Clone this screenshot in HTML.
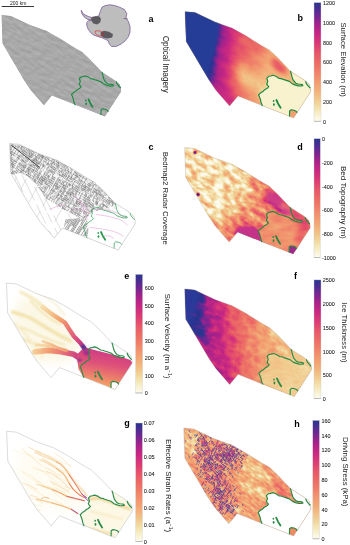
<!DOCTYPE html><html><head><meta charset="utf-8"><style>html,body{margin:0;padding:0;background:#fff;}svg{display:block;}text{font-family:"Liberation Sans",Arial,sans-serif;}</style></head><body>
<svg width="350" height="545" viewBox="0 0 350 545">
<defs>
<linearGradient id="cm" x1="0" y1="0" x2="0" y2="1"><stop offset="0.0" stop-color="#28358f"/><stop offset="0.062" stop-color="#4f2c92"/><stop offset="0.13" stop-color="#7f2590"/><stop offset="0.19" stop-color="#a8228a"/><stop offset="0.273" stop-color="#c92882"/><stop offset="0.357" stop-color="#dd3d74"/><stop offset="0.44" stop-color="#e85a68"/><stop offset="0.5" stop-color="#ec6a66"/><stop offset="0.568" stop-color="#ef7c68"/><stop offset="0.652" stop-color="#f2966e"/><stop offset="0.736" stop-color="#f3ae78"/><stop offset="0.82" stop-color="#f1ca8e"/><stop offset="0.888" stop-color="#f3e2ac"/><stop offset="0.947" stop-color="#f8f1d0"/><stop offset="1.0" stop-color="#fdfbf0"/></linearGradient>
<clipPath id="clp"><polygon points="0.0,0.0 10.0,1.0 30.0,10.6 44.0,15.6 47.0,16.6 60.6,24.2 74.3,32.8 79.0,35.6 84.4,38.6 92.3,45.9 105.0,59.3 106.4,60.4 119.3,68.6 124.3,72.9 125.7,77.9 125.5,80.6 108.6,106.6 53.0,84.6 44.6,94.6 30.7,78.6 24.0,68.6 1.2,30.0"/></clipPath>
<clipPath id="shelfclip"><polygon points="77.6,94.7 76.6,92.7 75.9,90.4 75.6,88.6 74.5,85.5 73.5,83.4 74.6,82.6 75.6,81.4 77.6,80.3 78.4,79.6 79.7,78.3 81.7,77.2 82.6,76.6 83.8,75.2 82.6,74.0 81.7,72.5 82.8,70.0 82.4,68.4 81.7,66.9 83.8,64.9 85.8,64.6 87.9,63.9 91.0,64.9 94.1,67.0 96.2,67.2 98.2,68.0 101.3,69.0 104.4,70.0 107.5,72.5 110.6,73.7 113.5,74.5 115.7,74.6 117.8,74.2 117.3,73.2 115.5,72.8 113.0,72.6 110.8,71.8 108.9,69.6 107.9,68.2 107.5,67.0 106.8,64.8 106.4,62.8 105.4,59.6 106.4,60.4 119.3,68.6 124.3,72.9 125.7,77.9 125.5,80.6 108.6,106.6"/></clipPath>
<filter id="bl2" x="-20%" y="-20%" width="140%" height="140%"><feGaussianBlur stdDeviation="2"/></filter>
<filter id="bl4" x="-30%" y="-30%" width="160%" height="160%"><feGaussianBlur stdDeviation="4"/></filter>
<filter id="bl7" x="-40%" y="-40%" width="180%" height="180%"><feGaussianBlur stdDeviation="7"/></filter>
<filter id="bl1"><feGaussianBlur stdDeviation="1"/></filter>
<filter id="bl05"><feGaussianBlur stdDeviation="0.6"/></filter>
</defs>
<filter id="hs" x="0" y="0" width="100%" height="100%"><feTurbulence type="fractalNoise" baseFrequency="0.18 0.32" numOctaves="3" seed="4" result="n"/><feColorMatrix in="n" type="matrix" values="0 0 0 0 0.5  0 0 0 0 0.5  0 0 0 0 0.5  1.6 0 0 0 -0.8"/></filter>
<filter id="hs2" x="0" y="0" width="100%" height="100%"><feTurbulence type="fractalNoise" baseFrequency="0.18 0.32" numOctaves="3" seed="4" result="n"/><feColorMatrix in="n" type="matrix" values="0 0 0 0 1  0 0 0 0 1  0 0 0 0 1  -1.6 0 0 0 0.8"/></filter>
<filter id="hill" x="0" y="0" width="100%" height="100%" color-interpolation-filters="sRGB"><feTurbulence type="fractalNoise" baseFrequency="0.12 0.26" numOctaves="4" seed="2" result="t"/><feDiffuseLighting in="t" surfaceScale="0.26" lighting-color="#dcdcdc" diffuseConstant="1.0"><feDistantLight azimuth="225" elevation="50"/></feDiffuseLighting></filter>
<g transform="translate(1.4,15.0) scale(0.953)">
<g clip-path="url(#clp)">
<polygon points="0.0,0.0 10.0,1.0 30.0,10.6 44.0,15.6 47.0,16.6 60.6,24.2 74.3,32.8 79.0,35.6 84.4,38.6 92.3,45.9 105.0,59.3 106.4,60.4 119.3,68.6 124.3,72.9 125.7,77.9 125.5,80.6 108.6,106.6 53.0,84.6 44.6,94.6 30.7,78.6 24.0,68.6 1.2,30.0" fill="#a9a9a9"/>
<g transform="rotate(35 62 52)"><rect x="-40" y="-40" width="210" height="190" filter="url(#hill)"/></g>
</g>
<path d="M77.6,94.7 L76.6,92.7 L75.9,90.4 L75.6,88.6 L74.5,85.5 L73.5,83.4 L74.6,82.6 L75.6,81.4 L77.6,80.3 L78.4,79.6 L79.7,78.3 L81.7,77.2 L82.6,76.6 L83.8,75.2 L82.6,74.0 L81.7,72.5 L82.8,70.0 L82.4,68.4 L81.7,66.9 L83.8,64.9 L85.8,64.6 L87.9,63.9 L91.0,64.9 L94.1,67.0 L96.2,67.2 L98.2,68.0 L101.3,69.0 L104.4,70.0 L107.5,72.5 L110.6,73.7 L113.5,74.5 L115.7,74.6 L117.8,74.2 L117.3,73.2 L115.5,72.8 L113.0,72.6 L110.8,71.8 L108.9,69.6 L107.9,68.2 L107.5,67.0 L106.8,64.8 L106.4,62.8 L105.4,59.6" fill="none" stroke="#178a3f" stroke-width="1.15" stroke-linejoin="round"/>
<path d="M120.5,69.8 L121.4,72.2 L123.4,74.8 L125.2,76.6" fill="none" stroke="#178a3f" stroke-width="1.15"/>
<path d="M104.5,105.0 L104.6,99.6 L106.1,98.4 L109.0,98.8 L111.0,99.8 L112.3,101.3" fill="none" stroke="#178a3f" stroke-width="1.15"/>
<ellipse cx="88.6" cy="89.6" rx="0.8" ry="1.0" fill="#178a3f"/>
<ellipse cx="88.9" cy="93.2" rx="0.9" ry="1.4" fill="#178a3f"/>
<path d="M91.4,88.6 L93.2,92.5 L95.6,96.4" fill="none" stroke="#178a3f" stroke-width="1.8" stroke-linecap="round"/>
</g>
<polygon points="81.2,10.4 82.8,13.4 85.2,15.0 88.4,16.5 91.6,17.4 98.8,16.0 100.4,11.2 102.0,7.2 105.2,5.6 110.0,4.8 114.8,5.6 119.6,7.2 124.4,9.6 126.8,13.6 126.0,17.6 128.4,21.6 130.0,26.4 130.0,32.0 128.4,36.8 125.2,40.8 121.2,44.0 116.4,46.4 111.6,46.4 109.2,44.0 108.4,40.8 103.6,38.4 98.8,36.8 94.0,35.2 90.8,32.8 88.4,29.6 86.8,25.6 86.8,22.4 88.4,20.8 91.6,20.0 87.6,19.4 84.4,17.2 82.0,13.8" fill="#bdbdbd" stroke="#7a5c98" stroke-width="0.8" stroke-linejoin="round"/>
<polygon points="91.2,17.4 95,16.4 99,16.2 101,18.8 100.2,22.6 97.2,24.4 93.4,23.4 91.2,20.4" fill="#5c5a5e"/>
<polygon points="100.5,32.4 104,30.8 109,31.8 113,34.2 112.2,37.6 107.6,38.6 103,37.4 100.8,35.6" fill="#5c5a5e"/>
<path d="M95.2,31.0 Q99,29.8 102.8,32.2 Q104.2,34.5 102.6,35.8 Q99,36.8 96.4,34.6 Q94.4,32.6 95.2,31.0Z" fill="none" stroke="#e0202a" stroke-width="0.6"/>
<line x1="123.5" y1="18.5" x2="127.5" y2="18.8" stroke="#6a5a7a" stroke-width="0.8"/>
<defs><filter id="fb" color-interpolation-filters="sRGB" x="0" y="0" width="1" height="1"><feTurbulence type="fractalNoise" baseFrequency="0.08 0.16" numOctaves="3" seed="3" result="noise"/><feColorMatrix in="noise" type="matrix" values="1 0 0 0 0  1 0 0 0 0  1 0 0 0 0  0 0 0 0 1" result="ng"/><feComposite in="SourceGraphic" in2="ng" operator="arithmetic" k1="0" k2="1" k3="0.14" k4="-0.07" result="sum"/><feComponentTransfer in="sum"><feFuncR type="table" tableValues="0.992 0.980 0.969 0.961 0.953 0.949 0.945 0.949 0.953 0.953 0.949 0.949 0.945 0.941 0.937 0.929 0.925 0.918 0.910 0.894 0.875 0.855 0.824 0.796 0.753 0.702 0.651 0.569 0.482 0.396 0.310 0.235 0.157"/><feFuncG type="table" tableValues="0.984 0.961 0.937 0.906 0.867 0.824 0.784 0.741 0.702 0.663 0.627 0.592 0.557 0.518 0.482 0.447 0.416 0.384 0.349 0.306 0.263 0.227 0.196 0.165 0.149 0.141 0.133 0.141 0.149 0.161 0.173 0.188 0.208"/><feFuncB type="table" tableValues="0.941 0.867 0.792 0.718 0.651 0.596 0.549 0.518 0.486 0.463 0.447 0.435 0.424 0.416 0.408 0.404 0.400 0.404 0.408 0.427 0.443 0.463 0.482 0.506 0.518 0.529 0.541 0.553 0.565 0.569 0.573 0.569 0.561"/><feFuncA type="table" tableValues="1 1"/></feComponentTransfer></filter><linearGradient id="gbv" gradientUnits="userSpaceOnUse" x1="28" y1="40" x2="93" y2="51"><stop offset="0" stop-color="rgb(255,255,255)"/><stop offset="0.06" stop-color="rgb(230,230,230)"/><stop offset="0.12" stop-color="rgb(204,204,204)"/><stop offset="0.22" stop-color="rgb(186,186,186)"/><stop offset="0.35" stop-color="rgb(158,158,158)"/><stop offset="0.5" stop-color="rgb(128,128,128)"/><stop offset="0.68" stop-color="rgb(94,94,94)"/><stop offset="0.85" stop-color="rgb(71,71,71)"/><stop offset="1" stop-color="rgb(59,59,59)"/></linearGradient></defs>
<g transform="translate(185.0,11.4) scale(1.0)">
<g clip-path="url(#clp)">
<g transform="rotate(30 62 52)"><g filter="url(#fb)"><g transform="rotate(-30 62 52)">
<rect x="-40" y="-40" width="210" height="190" fill="url(#gbv)"/>
<g filter="url(#bl4)"><ellipse cx="66" cy="70" rx="16" ry="8" fill="rgb(46,46,46)" transform="rotate(30 66 70)"/><ellipse cx="86" cy="80" rx="14" ry="8" fill="rgb(33,33,33)"/><ellipse cx="60" cy="60" rx="12" ry="6" fill="rgb(56,56,56)" transform="rotate(30 60 60)"/><ellipse cx="40" cy="88" rx="10" ry="7" fill="rgb(184,184,184)"/><ellipse cx="46" cy="96" rx="5" ry="4" fill="rgb(189,189,189)"/><ellipse cx="32" cy="78" rx="6" ry="6" fill="rgb(194,194,194)"/><ellipse cx="70" cy="34" rx="12" ry="5" fill="rgb(143,143,143)" transform="rotate(30 70 34)"/></g>
<g filter="url(#bl2)"><ellipse cx="94" cy="55" rx="10" ry="4" fill="rgb(153,153,153)" transform="rotate(42 94 55)"/></g>
</g></g></g>
<g filter="url(#bl1)">
<polygon points="-5,-5 36,-2 35,8 34,14 33,23 30,37 26,49 23,59 24,71 22,80 -5,80" fill="#273d98"/>
</g>
<g filter="url(#bl05)" clip-path="url(#shelfclip)"><rect x="60" y="55" width="72" height="60" fill="#f8f2cf"/></g>
<polygon points="104.5,105.2 104.6,99.6 106.1,98.4 109,98.8 111,99.8 112.4,101.3 108.6,106.6" fill="#f2a070"/>
</g>
<polygon points="0.0,0.0 10.0,1.0 30.0,10.6 44.0,15.6 47.0,16.6 60.6,24.2 74.3,32.8 79.0,35.6 84.4,38.6 92.3,45.9 105.0,59.3 106.4,60.4 119.3,68.6 124.3,72.9 125.7,77.9 125.5,80.6 108.6,106.6 53.0,84.6 44.6,94.6 30.7,78.6 24.0,68.6 1.2,30.0" fill="none" stroke="#a08a7a" stroke-width="0.3"/>
<path d="M77.6,94.7 L76.6,92.7 L75.9,90.4 L75.6,88.6 L74.5,85.5 L73.5,83.4 L74.6,82.6 L75.6,81.4 L77.6,80.3 L78.4,79.6 L79.7,78.3 L81.7,77.2 L82.6,76.6 L83.8,75.2 L82.6,74.0 L81.7,72.5 L82.8,70.0 L82.4,68.4 L81.7,66.9 L83.8,64.9 L85.8,64.6 L87.9,63.9 L91.0,64.9 L94.1,67.0 L96.2,67.2 L98.2,68.0 L101.3,69.0 L104.4,70.0 L107.5,72.5 L110.6,73.7 L113.5,74.5 L115.7,74.6 L117.8,74.2 L117.3,73.2 L115.5,72.8 L113.0,72.6 L110.8,71.8 L108.9,69.6 L107.9,68.2 L107.5,67.0 L106.8,64.8 L106.4,62.8 L105.4,59.6" fill="none" stroke="#178a3f" stroke-width="1.15" stroke-linejoin="round"/>
<path d="M120.5,69.8 L121.4,72.2 L123.4,74.8 L125.2,76.6" fill="none" stroke="#178a3f" stroke-width="1.15"/>
<path d="M104.5,105.0 L104.6,99.6 L106.1,98.4 L109.0,98.8 L111.0,99.8 L112.3,101.3" fill="none" stroke="#178a3f" stroke-width="1.15"/>
<ellipse cx="88.6" cy="89.6" rx="0.8" ry="1.0" fill="#178a3f"/>
<ellipse cx="88.9" cy="93.2" rx="0.9" ry="1.4" fill="#178a3f"/>
<path d="M91.4,88.6 L93.2,92.5 L95.6,96.4" fill="none" stroke="#178a3f" stroke-width="1.8" stroke-linecap="round"/>
</g>
<clipPath id="denseclip"><polygon points="0.0,0.0 10.0,1.0 30.0,10.6 44.0,15.6 47.0,16.6 60.6,24.2 74.3,32.8 79.0,35.6 84.4,38.6 92.3,45.9 103.0,52.0 107.0,62.0 96.0,65.0 84.0,68.0 72.5,77.5 64.8,71.7 53.2,66.0 45.5,60.2 37.8,56.3 32.0,48.6 26.3,40.9 18.5,33.2 10.8,29.3 3.1,31.2 1.2,30.0"/></clipPath>
<g transform="translate(9.6,143.4) scale(1.0)">
<polygon points="0.0,0.0 10.0,1.0 30.0,10.6 44.0,15.6 47.0,16.6 60.6,24.2 74.3,32.8 79.0,35.6 84.4,38.6 92.3,45.9 105.0,59.3 106.4,60.4 119.3,68.6 124.3,72.9 125.7,77.9 125.5,80.6 108.6,106.6 53.0,84.6 44.6,94.6 30.7,78.6 24.0,68.6 1.2,30.0" fill="#fff"/>
<g clip-path="url(#clp)">
<path d="M126.5,72.5l5.3,10.8M108.5,47.1l12.5,25.5M123.7,78.2l11.6,23.7M110.2,61.6l8.6,17.6M89.9,33.5l6.1,12.6M98.1,50.2l7.6,15.6M108.5,71.6l3.5,7.2M112.8,80.5l4.7,9.7M74.0,14.0l10.4,21.3M85.1,36.8l5.2,10.7M92.6,52.2l11.1,22.7M106.6,80.8l9.5,19.5M82.4,47.8l6.0,12.4M89.2,61.9l11.3,23.3M103.8,91.6l11.1,22.9M77.6,48.4l11.2,23.0M91.6,77.1l8.4,17.3M50.4,5.1l7.3,15.0M59.4,23.7l4.3,8.8M67.1,39.5l7.5,15.4M88.2,82.8l8.5,17.4M99.2,105.1l12.2,24.9M37.9,-3.4l10.4,21.4M49.6,20.5l5.4,11.1M56.4,34.5l5.7,11.8M65.5,53.2l6.4,13.0M73.6,69.8l11.7,24.1M86.6,96.4l5.6,11.5M33.0,-0.3l8.1,16.7M56.7,48.3l8.1,16.7M67.9,71.3l7.4,15.1M78.7,93.4l8.0,16.4M26.9,5.2l12.2,25.0M42.2,36.6l6.5,13.4M51.4,55.4l4.3,8.9M58.7,70.5l6.3,13.0M67.3,88.0l10.0,20.5M38.7,44.7l10.0,20.6M61.1,90.6l10.0,20.5M11.8,5.7l9.8,20.1M25.0,32.6l4.9,10.0M32.5,48.1l9.3,19.0M44.2,72.0l7.9,16.2M6.0,4.5l6.9,14.2M24.9,43.2l11.7,23.9M37.8,69.7l4.5,9.2M45.1,84.7l10.5,21.6M-3.1,-0.2l5.5,11.2M12.2,31.1l12.7,26.0M27.0,61.4l9.1,18.7M39.5,87.2l10.1,20.8M-6.9,6.8l8.6,17.7M3.7,28.5l9.7,20.0M29.3,80.8l11.1,22.9M-11.6,15.1l10.6,21.8" stroke="#8e8e8e" stroke-width="0.3" fill="none"/>
<path d="M0.3,18.8l8.4,-15.8M2.3,42.3l4.9,-9.1M12.0,24.1l5.6,-10.5M10.2,47.8l6.8,-12.7M20.6,28.3l3.9,-7.4M19.2,59.2l8.8,-16.6M21.3,85.0l9.3,-17.4M33.0,63.1l4.1,-7.8M52.5,26.4l8.2,-15.4M54.7,40.7l5.3,-10.0M45.3,78.2l6.6,-12.3M76.5,41.6l6.1,-11.6M56.2,98.0l5.8,-10.9M76.8,87.8l3.8,-7.1M83.6,75.1l6.9,-12.9M92.2,58.9l4.9,-9.3M86.9,86.9l3.0,-5.6M91.4,78.5l8.3,-15.6M93.3,116.3l7.7,-14.4M102.6,98.7l5.7,-10.6M110.5,83.9l8.5,-16.1" stroke="#a0a0a0" stroke-width="0.3" fill="none"/>
<polygon points="77.6,94.7 76.6,92.7 75.9,90.4 75.6,88.6 74.5,85.5 73.5,83.4 74.6,82.6 75.6,81.4 77.6,80.3 78.4,79.6 79.7,78.3 81.7,77.2 82.6,76.6 83.8,75.2 82.6,74.0 81.7,72.5 82.8,70.0 82.4,68.4 81.7,66.9 83.8,64.9 85.8,64.6 87.9,63.9 91.0,64.9 94.1,67.0 96.2,67.2 98.2,68.0 101.3,69.0 104.4,70.0 107.5,72.5 110.6,73.7 113.5,74.5 115.7,74.6 117.8,74.2 117.3,73.2 115.5,72.8 113.0,72.6 110.8,71.8 108.9,69.6 107.9,68.2 107.5,67.0 106.8,64.8 106.4,62.8 105.4,59.6 106.4,60.4 119.3,68.6 124.3,72.9 125.7,77.9 125.5,80.6 108.6,106.6" fill="#fff"/>
<clipPath id="hatchc"><polygon points="56,76 76,74 79,86 78,93 62,90 54,84"/></clipPath>
<g clip-path="url(#hatchc)">
<path d="M39.0,94.1l15.7,-25.1M42.4,90.6l11.6,-18.5M52.5,77.1l11.4,-18.3M52.1,80.5l14.8,-23.7M42.7,97.5l13.8,-22.0M56.7,75.1l13.5,-21.6M47.4,91.6l11.1,-17.7M52.6,85.9l10.5,-16.8M57.5,80.0l10.7,-17.1M50.1,94.1l13.8,-22.0M55.3,88.7l15.8,-25.2M53.3,94.0l9.9,-15.8M63.5,77.8l14.2,-22.7M62.0,82.5l5.3,-8.6M67.8,73.3l10.5,-16.8M63.1,82.7l14.6,-23.3M55.1,97.1l12.8,-20.4M68.2,76.1l15.5,-24.8M60.1,91.5l10.5,-16.7M70.7,74.6l8.0,-12.8M62.6,89.4l8.0,-12.8M70.8,76.3l7.3,-11.7M55.0,104.0l9.3,-14.8M71.6,77.6l10.0,-16.1M55.2,106.4l15.2,-24.4M70.9,81.3l14.9,-23.8M59.1,102.7l9.0,-14.4M68.3,88.0l12.0,-19.2M58.2,106.2l14.1,-22.5M68.2,92.0l13.7,-21.9M73.6,86.0l7.8,-12.5M64.8,102.7l12.5,-20.0M77.6,82.2l8.3,-13.2M68.6,100.6l8.0,-12.7M76.9,87.4l9.2,-14.8M70.4,99.7l13.8,-22.1M72.2,99.0l7.7,-12.3M80.2,86.2l11.7,-18.7M73.4,99.9l15.6,-25.0M78.0,94.7l15.1,-24.2M79.3,94.3l15.5,-24.8M78.6,97.8l11.0,-17.7M81.8,97.5l8.9,-14.3M85.1,97.3l14.0,-22.4" stroke="#2e2e2e" stroke-width="0.45" fill="none"/>
</g>
<g clip-path="url(#denseclip)">
<rect x="-5" y="-5" width="130" height="110" fill="#f4f4f4"/>
<path d="M-2.5,3.8l3.6,-6.1M-0.9,6.8l4.5,-7.7M-1.7,11.0l1.1,-1.9M0.1,7.9l3.9,-6.7M4.6,0.1l4.4,-7.6M-2.3,14.9l4.1,-7.2M-3.8,19.6l4.2,-7.3M1.5,10.4l4.9,-8.4M7.1,0.6l2.2,-3.7M-1.3,17.6l4.2,-7.4M0.3,17.8l2.1,-3.6M3.5,12.2l3.3,-5.7M7.5,5.3l1.8,-3.1M-3.6,26.8l3.6,-6.2M1.2,18.6l1.7,-3.0M8.9,5.1l1.7,-3.0M-0.7,25.0l4.2,-7.3M7.4,11.0l2.4,-4.1M10.6,5.4l4.4,-7.6M-3.7,32.1l4.9,-8.5M2.1,21.9l3.5,-6.1M11.5,5.7l3.1,-5.4M-0.0,28.3l1.1,-1.8M2.2,24.4l2.9,-5.1M5.7,18.4l4.1,-7.2M13.4,5.1l4.0,-6.8M2.5,26.2l2.4,-4.1M5.7,20.7l1.2,-2.1M7.1,18.2l4.2,-7.3M12.4,9.1l4.7,-8.1M-0.9,34.8l4.3,-7.4M9.5,16.7l3.0,-5.2M13.1,10.5l3.0,-5.2M2.9,30.6l2.0,-3.5M5.8,25.7l3.5,-6.0M10.5,17.5l5.0,-8.6M15.7,8.5l3.1,-5.4M3.8,32.0l1.2,-2.1M5.7,28.9l4.3,-7.4M10.3,20.9l4.2,-7.2M15.6,11.6l4.3,-7.5M5.2,32.6l4.2,-7.3M10.0,24.3l4.7,-8.1M15.0,15.6l2.7,-4.7M18.6,9.3l2.6,-4.5M11.0,25.5l2.6,-4.5M13.9,20.4l1.4,-2.4M15.5,17.7l3.3,-5.7M19.5,10.8l4.7,-8.2M8.6,32.4l3.9,-6.8M12.8,25.1l2.3,-4.1M15.5,20.4l4.8,-8.3M21.0,10.9l2.3,-4.0M8.2,34.9l4.9,-8.4M14.2,24.6l2.5,-4.3M17.8,18.4l4.9,-8.4M10.4,33.0l1.6,-2.8M13.2,28.2l4.4,-7.6M21.2,14.4l5.0,-8.6M12.4,32.3l1.3,-2.2M18.4,21.8l3.6,-6.3M22.8,14.3l1.4,-2.4M24.9,10.7l3.3,-5.6M12.5,34.8l2.1,-3.6M15.5,29.6l4.8,-8.2M21.0,20.1l3.4,-5.9M25.3,12.6l1.3,-2.2M26.9,9.9l2.2,-3.8M17.5,28.3l4.5,-7.8M22.6,19.5l4.0,-6.9M15.4,33.7l1.9,-3.3M18.3,28.6l4.8,-8.3M23.7,19.3l3.5,-6.1M27.5,12.8l1.7,-3.0M14.8,37.1l3.6,-6.2M18.5,30.6l4.0,-6.8M23.1,22.6l2.4,-4.1M26.2,17.3l4.7,-8.1M16.8,36.7l2.2,-3.9M20.3,30.7l2.9,-5.0M23.8,24.6l3.4,-5.9M27.7,17.8l3.7,-6.4M19.4,34.9l2.0,-3.5M22.6,29.4l3.2,-5.5M26.5,22.6l2.6,-4.4M31.4,14.2l3.2,-5.5M20.1,35.8l1.2,-2.1M27.0,23.7l3.8,-6.5M31.0,16.9l4.8,-8.3M25.2,28.8l3.6,-6.3M29.9,20.6l4.3,-7.5M20.9,39.2l4.9,-8.6M26.8,29.0l4.7,-8.1M27.2,30.5l1.3,-2.2M34.9,17.2l3.9,-6.8M23.8,39.5l2.7,-4.6M26.9,34.1l4.1,-7.1M31.7,25.8l2.6,-4.6M35.6,19.1l4.8,-8.3M22.5,44.3l4.8,-8.2M27.6,35.5l4.8,-8.4M38.1,17.4l2.5,-4.4M22.8,46.6l3.9,-6.7M34.0,27.2l1.7,-2.9M36.8,22.3l3.1,-5.3M27.3,40.6l4.8,-8.3M38.1,21.9l1.2,-2.2M28.0,42.5l1.2,-2.1M29.4,40.1l2.8,-4.8M32.3,35.0l1.4,-2.5M33.9,32.2l2.5,-4.4M36.8,27.2l1.1,-1.9M38.3,24.6l2.9,-5.0M42.4,17.5l4.2,-7.2M24.5,51.7l4.7,-8.1M30.1,42.0l4.7,-8.2M35.3,33.0l4.0,-6.9M40.5,24.1l3.6,-6.3M44.8,16.6l2.0,-3.5M27.3,49.0l3.5,-6.1M31.2,42.2l4.9,-8.6M36.6,32.9l4.2,-7.2M44.1,19.8l4.9,-8.5M28.6,49.5l3.4,-5.8M35.9,36.7l2.9,-5.0M40.0,29.6l3.8,-6.6M44.7,21.6l3.6,-6.3M29.5,50.7l5.0,-8.6M35.1,40.9l2.7,-4.7M38.8,34.6l2.4,-4.2M41.7,29.5l3.2,-5.6M45.4,23.2l2.8,-4.8M28.3,55.7l4.7,-8.1M34.1,45.7l1.6,-2.8M36.3,41.9l1.4,-2.4M43.8,28.8l4.3,-7.4M48.3,21.0l1.3,-2.2M32.8,50.4l4.4,-7.6M37.7,41.9l5.0,-8.6M43.5,31.8l2.6,-4.5M46.9,26.0l2.8,-4.8M50.4,19.9l4.7,-8.1M31.6,55.0l4.7,-8.2M36.5,46.5l2.5,-4.3M39.9,40.5l3.9,-6.7M48.5,25.7l1.6,-2.8M50.5,22.2l2.7,-4.7M34.0,53.5l1.9,-3.3M41.2,41.0l1.2,-2.1M43.4,37.2l1.7,-3.0M51.4,23.4l4.8,-8.2M36.0,52.9l4.5,-7.8M40.6,44.9l4.9,-8.5M51.7,25.8l4.7,-8.1M35.8,55.6l3.1,-5.4M40.1,48.2l1.9,-3.3M42.1,44.6l3.3,-5.7M45.6,38.6l2.7,-4.6M49.0,32.7l1.3,-2.3M51.2,28.9l2.1,-3.6M53.9,24.3l1.5,-2.5M37.2,55.1l3.0,-5.3M40.5,49.4l2.9,-5.1M44.2,43.0l3.7,-6.4M48.4,35.7l2.5,-4.2M51.7,30.0l2.3,-4.0M54.5,25.2l3.4,-6.0M40.8,52.0l3.7,-6.5M45.6,43.6l4.7,-8.2M51.0,34.3l4.7,-8.2M56.0,25.6l1.7,-2.9M39.4,56.5l2.1,-3.7M42.7,50.7l4.8,-8.4M52.2,34.2l2.0,-3.5M57.4,25.3l4.5,-7.8M42.5,53.9l1.0,-1.8M46.6,46.6l2.3,-3.9M52.1,37.2l5.0,-8.6M57.9,27.1l1.1,-1.9M38.0,64.6l4.8,-8.4M43.6,55.0l1.8,-3.1M49.1,45.3l1.6,-2.8M51.1,41.8l2.6,-4.6M54.7,35.7l4.4,-7.7M44.7,55.8l2.8,-4.8M48.4,49.4l3.2,-5.5M52.1,42.9l3.3,-5.8M61.4,27.0l1.6,-2.8M42.5,61.4l2.3,-3.9M45.7,56.0l3.6,-6.3M50.0,48.6l4.4,-7.7M55.2,39.5l3.7,-6.5M59.2,32.6l4.4,-7.5M48.5,53.0l1.2,-2.0M50.8,49.0l1.7,-3.0M53.6,44.2l1.6,-2.9M42.9,64.9l3.5,-6.1M46.6,58.4l2.3,-3.9M54.1,45.5l1.2,-2.1M55.8,42.6l3.4,-5.9M45.5,62.1l2.1,-3.6M47.9,58.0l2.4,-4.1M50.5,53.5l1.5,-2.7M52.4,50.3l4.3,-7.4M60.4,36.4l3.9,-6.7M64.6,29.1l3.8,-6.6M45.9,63.7l2.4,-4.2M48.7,59.0l3.5,-6.1M53.2,51.2l3.7,-6.4M57.6,43.6l2.6,-4.5M65.4,30.1l2.8,-4.9M45.5,67.6l4.8,-8.4M59.7,42.8l1.6,-2.7M62.3,38.5l2.7,-4.6M65.5,32.8l3.2,-5.6M48.8,64.2l1.5,-2.6M50.8,60.6l1.3,-2.3M52.5,57.8l3.6,-6.2M56.6,50.6l3.5,-6.0M64.7,36.5l4.6,-8.0M48.0,67.7l3.0,-5.2M51.2,62.1l1.8,-3.1M53.3,58.5l2.9,-5.1M56.6,52.7l4.6,-8.0M62.5,42.6l3.1,-5.4M66.7,35.2l2.2,-3.8M69.4,30.6l4.2,-7.3M55.3,57.3l2.0,-3.5M57.7,53.0l2.7,-4.7M60.7,47.8l2.7,-4.7M69.2,33.3l1.8,-3.0M50.2,69.0l4.2,-7.2M55.0,60.7l3.7,-6.4M59.8,52.4l3.9,-6.8M68.4,37.4l1.8,-3.1M70.6,33.7l3.0,-5.2M53.6,65.3l3.7,-6.5M58.4,57.0l4.1,-7.1M62.7,49.6l4.4,-7.7M68.2,40.0l2.2,-3.7M54.3,67.1l2.6,-4.4M58.1,60.6l4.2,-7.4M63.1,51.9l1.2,-2.1M64.9,48.8l1.6,-2.8M67.0,45.1l2.4,-4.1M69.6,40.7l2.5,-4.3M72.3,35.9l3.9,-6.8M58.1,63.3l1.6,-2.7M59.9,60.1l1.9,-3.2M62.2,56.3l1.4,-2.3M65.6,50.3l4.9,-8.4M58.4,64.7l1.4,-2.4M60.3,61.4l3.9,-6.7M65.1,53.1l3.2,-5.6M58.3,67.2l1.2,-2.1M69.9,47.0l4.1,-7.2M74.4,39.4l3.7,-6.5M68.8,51.8l4.2,-7.3M73.6,43.5l1.1,-1.9M60.1,69.3l2.3,-3.9M63.1,64.3l4.9,-8.5M72.5,47.9l4.3,-7.4M77.5,39.3l3.1,-5.4M60.7,70.8l3.9,-6.7M65.1,63.2l3.2,-5.5M68.8,56.9l4.6,-7.9M74.3,47.2l4.4,-7.5M79.4,38.5l3.4,-6.0M62.3,71.0l3.5,-6.0M66.8,63.3l2.3,-4.1M77.9,44.1l3.2,-5.6M63.1,72.7l4.7,-8.2M68.3,63.6l3.8,-6.6M75.1,51.9l1.6,-2.8M77.6,47.5l3.8,-6.6M81.7,40.4l3.7,-6.3M63.6,74.4l4.1,-7.2M73.6,57.1l3.7,-6.5M78.3,49.0l2.1,-3.7M65.7,74.0l1.3,-2.3M67.7,70.6l1.2,-2.1M69.9,66.6l3.8,-6.6M74.3,59.1l2.0,-3.5M81.1,47.2l3.5,-6.1M85.8,39.1l1.1,-1.8M67.3,73.2l4.1,-7.1M72.1,64.8l4.6,-7.9M77.2,56.1l2.7,-4.7M85.7,41.3l4.3,-7.5M68.6,73.8l2.5,-4.4M71.7,68.6l2.5,-4.3M74.7,63.2l2.1,-3.7M77.5,58.4l4.4,-7.6M82.5,49.7l2.8,-4.8M68.2,77.2l2.0,-3.4M76.3,63.3l4.4,-7.6M81.8,53.7l4.5,-7.8M73.3,70.8l5.0,-8.6M79.1,60.7l2.0,-3.5M85.3,50.0l4.1,-7.1M69.6,80.1l3.0,-5.2M75.9,69.2l2.4,-4.2M79.0,63.8l3.0,-5.1M83.1,56.8l4.5,-7.7M88.6,47.2l1.4,-2.5M71.1,80.3l4.6,-8.0M76.6,70.8l3.1,-5.4M80.2,64.7l3.0,-5.1M83.6,58.7l1.2,-2.1M85.1,56.2l1.0,-1.7M86.8,53.2l4.2,-7.3M71.3,83.0l4.1,-7.1M76.6,73.9l1.5,-2.6M78.3,70.9l2.4,-4.1M81.7,65.0l3.8,-6.6M86.3,57.1l2.2,-3.9M89.2,52.0l4.7,-8.1M76.6,75.7l2.7,-4.6M79.8,70.3l4.2,-7.3M85.1,61.0l3.9,-6.8M89.6,53.2l2.2,-3.8M92.7,47.9l3.1,-5.3M80.9,70.4l3.9,-6.8M86.0,61.7l2.3,-4.0M89.2,56.1l1.7,-3.0M91.4,52.3l1.1,-2.0M76.5,80.4l4.3,-7.5M86.6,62.7l1.8,-3.1M88.9,58.9l2.2,-3.8M92.1,53.2l1.2,-2.0M94.2,49.7l1.4,-2.4M91.0,57.7l3.8,-6.6M95.0,50.7l3.6,-6.2M86.3,69.0l1.8,-3.1M89.1,64.1l1.6,-2.7M95.8,52.6l1.7,-3.0M86.8,70.2l1.9,-3.3M89.0,66.3l1.8,-3.1M92.0,61.2l2.3,-4.1M89.1,69.3l4.9,-8.4M91.2,67.5l3.8,-6.6M96.1,59.2l2.2,-3.8M98.9,54.2l2.7,-4.8M95.5,63.4l2.7,-4.6M98.5,58.2l1.1,-2.0M100.0,55.6l2.6,-4.5M93.7,69.6l4.1,-7.2M98.9,60.7l1.3,-2.3M100.7,57.5l4.6,-8.0M100.9,59.6l2.1,-3.6M103.4,55.2l4.6,-8.0M102.1,60.0l2.5,-4.3M101.2,64.7l3.5,-6.1M105.4,57.4l4.9,-8.4M101.3,67.2l1.7,-2.9M103.6,67.7l3.1,-5.4M104.6,68.0l3.8,-6.6" stroke="#4a4a4a" stroke-width="0.42" fill="none"/>
<path d="M47.2,13.0l8.6,5.2M56.6,18.7l6.2,3.7M80.0,32.8l5.8,3.5M37.2,9.9l8.7,5.2M52.4,19.0l7.5,4.5M65.6,26.9l2.0,1.2M70.1,29.7l2.3,1.4M74.6,32.4l8.5,5.1M85.1,38.7l7.1,4.3M98.9,47.0l6.1,3.7M41.4,14.9l8.5,5.1M51.1,20.7l1.8,1.1M64.6,28.8l2.7,1.6M69.5,31.8l8.0,4.8M83.6,40.3l4.1,2.5M89.3,43.7l9.4,5.7M100.1,50.1l7.8,4.7M7.5,-2.9l8.8,5.3M17.7,3.3l9.2,5.5M28.2,9.6l8.2,4.9M38.6,15.8l10.3,6.2M54.6,25.5l7.7,4.6M63.4,30.7l7.2,4.3M77.5,39.2l6.5,3.9M96.0,50.3l10.0,6.0M11.0,0.9l9.6,5.8M21.3,7.1l3.3,2.0M28.8,11.6l8.0,4.8M42.6,19.9l6.4,3.8M49.5,24.1l2.9,1.8M69.8,36.2l5.7,3.4M76.2,40.1l5.0,3.0M83.1,44.3l6.7,4.0M99.5,54.1l1.7,1.0M7.7,1.8l2.2,1.3M20.8,9.6l6.8,4.1M28.4,14.2l2.9,1.7M33.4,17.2l6.3,3.8M41.8,22.2l3.7,2.2M47.8,25.9l4.5,2.7M54.7,30.0l2.0,1.2M58.2,32.1l10.3,6.2M70.4,39.4l3.1,1.9M74.6,42.0l8.0,4.8M83.8,47.5l9.0,5.4M93.2,53.1l4.0,2.4M99.1,56.7l8.1,4.9M-1.5,-1.9l5.3,3.2M4.7,1.9l3.7,2.2M10.3,5.2l5.8,3.5M16.5,8.9l6.6,4.0M35.9,20.6l3.0,1.8M40.1,23.1l2.7,1.6M43.4,25.1l6.8,4.1M52.3,30.4l9.7,5.8M64.5,37.8l8.4,5.1M73.3,43.1l8.2,4.9M82.1,48.3l1.9,1.1M91.4,54.0l8.4,5.1M-1.4,0.3l8.2,4.9M7.7,5.7l4.8,2.9M13.0,8.9l9.5,5.7M24.3,15.7l4.9,2.9M31.1,19.8l8.7,5.2M46.7,29.1l7.2,4.3M55.9,34.7l6.9,4.1M70.8,43.6l7.2,4.3M92.6,56.7l4.0,2.4M97.7,59.8l3.1,1.9M-5.0,-0.2l6.0,3.6M21.7,15.8l9.2,5.5M32.2,22.1l6.0,3.6M39.6,26.6l8.8,5.3M55.1,35.9l6.7,4.1M63.7,41.0l7.3,4.4M71.9,46.0l4.3,2.6M77.8,49.5l1.8,1.1M95.8,60.3l4.2,2.5M-5.3,1.9l7.7,4.6M58.7,40.4l2.7,1.6M61.9,42.3l8.0,4.8M91.8,60.3l8.7,5.2M1.1,7.7l9.7,5.8M23.2,21.0l8.1,4.9M42.5,32.6l9.0,5.4M62.3,44.5l2.5,1.5M65.7,46.6l4.8,2.9M71.1,49.8l1.8,1.1M73.5,51.2l6.9,4.1M82.6,56.7l6.1,3.7M97.3,65.6l1.8,1.1M-0.4,9.1l6.4,3.9M7.0,13.6l9.4,5.7M18.6,20.5l6.6,4.0M26.1,25.0l1.9,1.1M38.2,32.3l2.0,1.2M42.4,34.8l3.9,2.3M48.7,38.6l9.9,5.9M70.2,51.5l9.6,5.8M84.2,59.9l4.8,2.9M90.3,63.6l3.6,2.1M1.4,13.1l3.4,2.0M13.7,20.4l10.1,6.1M24.3,26.8l2.9,1.7M29.5,29.9l2.8,1.7M33.7,32.5l2.8,1.7M37.6,34.8l2.7,1.6M41.0,36.8l7.8,4.7M49.2,41.7l6.6,4.0M61.3,49.0l3.7,2.2M70.0,54.2l6.8,4.1M78.6,59.4l8.4,5.0M87.7,64.9l2.6,1.6M0.2,14.7l7.6,4.5M8.2,19.6l4.8,2.9M14.6,23.3l5.9,3.5M21.9,27.8l7.9,4.8M31.5,33.5l9.7,5.8M41.8,39.7l7.9,4.8M55.4,47.9l6.2,3.7M63.6,52.8l2.5,1.5M66.7,54.7l6.0,3.6M73.2,58.6l8.6,5.2M83.9,65.0l7.2,4.3M-2.7,15.2l5.8,3.5M25.3,32.0l2.5,1.5M28.4,33.9l9.7,5.8M39.9,40.8l3.6,2.2M45.3,44.0l4.8,2.9M50.8,47.4l3.3,2.0M67.6,57.4l4.1,2.4M72.0,60.1l2.3,1.4M75.5,62.2l2.1,1.3M-1.2,18.1l9.4,5.6M10.6,25.2l7.6,4.5M18.7,30.1l8.0,4.8M27.5,35.3l5.6,3.3M34.9,39.8l5.9,3.5M47.9,47.6l10.2,6.1M66.8,58.9l6.9,4.1M-2.0,20.0l8.7,5.2M8.7,26.4l6.1,3.6M15.7,30.6l6.8,4.1M23.6,35.4l2.8,1.7M27.9,38.0l5.6,3.4M40.9,45.8l9.0,5.4M50.4,51.5l3.2,1.9M56.0,54.9l10.1,6.1M66.4,61.1l8.0,4.8M8.8,28.4l9.1,5.5M18.7,34.3l3.3,2.0M23.1,37.0l3.4,2.0M44.8,50.0l3.4,2.0M50.3,53.3l9.0,5.4M60.8,59.6l6.1,3.7M69.1,64.6l8.4,5.0M-6.7,21.3l8.9,5.4M4.3,27.9l4.7,2.8M19.3,36.9l4.4,2.6M45.0,52.4l2.1,1.3M47.7,54.0l7.7,4.6M64.1,63.9l7.8,4.7M72.9,69.1l7.0,4.2M-1.7,27.1l7.6,4.6M26.8,44.2l7.8,4.7M56.0,61.8l7.7,4.6M73.6,72.3l10.0,6.0M-1.5,28.9l9.0,5.4M40.0,53.8l5.3,3.2M64.7,68.7l9.8,5.9M32.5,52.1l7.4,4.4M53.1,64.5l5.2,3.1M33.5,55.1l6.2,3.7M41.0,59.6l9.2,5.5M58.8,70.3l3.7,2.2M64.5,73.7l5.0,3.0M53.5,68.6l7.2,4.3M66.9,76.7l5.6,3.3" stroke="#505050" stroke-width="0.4" fill="none"/>
<path d="M102.4,54.8l0.7,7.9M99.3,53.6l0.7,7.4M95.7,44.5l0.3,2.9M92.6,45.0l0.3,3.6M93.3,52.8l0.2,2.1M93.9,59.8l0.3,3.2M89.3,46.5l0.3,3.1M90.5,60.2l0.3,3.1M91.1,66.9l0.2,2.2M86.2,42.2l0.2,2.3M86.6,47.1l0.6,7.2M87.5,57.5l0.6,7.2M82.8,36.2l0.5,5.7M84.2,52.2l0.3,3.2M80.8,48.4l0.5,5.9M82.3,65.7l0.3,3.4M75.5,39.6l0.4,4.5M76.1,45.9l0.7,7.4M77.2,57.9l0.2,2.4M72.1,37.0l0.2,2.7M67.2,30.6l0.3,3.4M69.6,58.3l0.2,2.6M66.2,49.8l0.4,4.6M66.7,55.6l0.7,7.6M67.5,65.1l0.3,3.3M60.9,21.9l0.6,6.6M61.7,30.7l0.5,6.0M62.4,39.2l0.5,6.1M63.2,48.1l0.5,5.5M63.9,56.6l0.4,4.8M65.2,71.2l0.6,6.4M58.5,25.1l0.5,5.4M59.1,31.7l0.2,2.2M59.7,38.4l0.5,5.3M60.6,48.1l0.5,5.3M62.0,64.2l0.6,7.0M55.3,18.9l0.4,4.1M55.9,26.3l0.3,3.2M56.8,36.4l0.5,6.0M53.6,37.7l0.5,5.7M54.2,44.5l0.3,3.8M48.7,16.8l0.6,6.5M49.5,26.2l0.3,3.6M50.0,31.2l0.3,3.0M50.4,36.0l0.3,3.8M51.7,51.6l0.5,6.0M52.6,61.7l0.5,6.0M47.5,39.6l0.5,5.7M48.3,47.7l0.4,5.1M49.4,60.4l0.2,2.3M40.9,9.4l0.5,5.4M41.6,17.1l0.7,7.7M42.6,28.3l0.5,5.7M43.4,38.4l0.6,6.8M37.0,12.1l0.2,2.7M38.8,31.9l0.5,5.4M39.6,41.6l0.5,5.9M40.2,48.8l0.2,2.5M32.9,10.8l0.3,3.4M33.5,17.8l0.5,6.0M34.2,26.0l0.5,5.7M35.1,35.5l0.4,4.6M35.8,43.5l0.2,2.1M36.8,55.9l0.2,2.6M32.1,30.6l0.6,7.3M33.9,51.1l0.6,7.1M26.4,14.3l0.5,6.2M28.1,33.5l0.2,2.2M23.9,26.1l0.5,6.1M24.6,35.0l0.2,2.3M25.1,40.6l0.4,4.0M19.5,6.7l0.6,7.0M18.7,26.6l0.6,7.3M12.0,2.2l0.6,6.4M13.2,16.2l0.2,2.6M13.7,21.5l0.6,6.9M9.4,15.3l0.5,6.1M1.3,7.4l0.6,7.1M2.4,19.5l0.5,5.2M3.0,26.0l0.7,7.6M-1.7,5.7l0.2,2.2M-0.7,16.7l0.4,4.6M-0.0,24.7l0.3,3.9" stroke="#606060" stroke-width="0.35" fill="none"/>
<line x1="84.9" y1="55.6" x2="85.3" y2="65.0" stroke="#fff" stroke-width="1.0" opacity="0.85"/>
<line x1="52.6" y1="2.0" x2="67.3" y2="10.5" stroke="#fff" stroke-width="0.6" opacity="0.85"/>
<line x1="70.8" y1="43.5" x2="71.1" y2="51.8" stroke="#fff" stroke-width="0.6" opacity="0.85"/>
<line x1="44.6" y1="55.2" x2="53.6" y2="40.8" stroke="#fff" stroke-width="0.8" opacity="0.85"/>
<line x1="45.4" y1="0.1" x2="46.2" y2="23.9" stroke="#fff" stroke-width="0.8" opacity="0.85"/>
<line x1="72.2" y1="51.4" x2="72.9" y2="72.1" stroke="#fff" stroke-width="0.8" opacity="0.85"/>
<line x1="59.1" y1="57.1" x2="82.3" y2="70.5" stroke="#fff" stroke-width="0.8" opacity="0.85"/>
<line x1="78.5" y1="8.9" x2="79.4" y2="36.9" stroke="#fff" stroke-width="1.3" opacity="0.85"/>
<line x1="94.2" y1="59.2" x2="112.9" y2="70.0" stroke="#fff" stroke-width="0.8" opacity="0.85"/>
<line x1="15.1" y1="43.1" x2="25.1" y2="27.1" stroke="#fff" stroke-width="0.6" opacity="0.85"/>
<line x1="45.2" y1="30.1" x2="62.5" y2="40.9" stroke="#fff" stroke-width="1.0" opacity="0.85"/>
<line x1="73.1" y1="31.1" x2="85.6" y2="9.5" stroke="#fff" stroke-width="0.6" opacity="0.85"/>
<line x1="92.5" y1="46.9" x2="96.9" y2="39.9" stroke="#fff" stroke-width="1.3" opacity="0.85"/>
<line x1="76.3" y1="42.3" x2="86.9" y2="25.3" stroke="#fff" stroke-width="1.3" opacity="0.85"/>
<line x1="79.6" y1="16.8" x2="104.2" y2="32.2" stroke="#fff" stroke-width="1.0" opacity="0.85"/>
<line x1="31.8" y1="31.9" x2="37.7" y2="21.7" stroke="#fff" stroke-width="1.3" opacity="0.85"/>
<line x1="47.1" y1="61.3" x2="51.7" y2="53.8" stroke="#fff" stroke-width="0.8" opacity="0.85"/>
<line x1="96.8" y1="5.2" x2="104.6" y2="9.6" stroke="#fff" stroke-width="1.3" opacity="0.85"/>
<line x1="84.5" y1="61.0" x2="101.8" y2="71.0" stroke="#fff" stroke-width="1.0" opacity="0.85"/>
<line x1="16.1" y1="4.1" x2="26.9" y2="-14.7" stroke="#fff" stroke-width="1.0" opacity="0.85"/>
<line x1="84.2" y1="68.4" x2="92.6" y2="53.8" stroke="#fff" stroke-width="0.8" opacity="0.85"/>
<line x1="0.4" y1="12.3" x2="22.6" y2="25.1" stroke="#fff" stroke-width="0.6" opacity="0.85"/>
<line x1="61.3" y1="28.3" x2="66.9" y2="18.7" stroke="#fff" stroke-width="0.6" opacity="0.85"/>
<line x1="45.5" y1="32.2" x2="59.2" y2="8.6" stroke="#fff" stroke-width="0.6" opacity="0.85"/>
<line x1="5.4" y1="24.8" x2="11.5" y2="14.3" stroke="#fff" stroke-width="1.3" opacity="0.85"/>
<line x1="18.3" y1="50.4" x2="23.3" y2="42.3" stroke="#fff" stroke-width="1.3" opacity="0.85"/>
<line x1="90.8" y1="2.9" x2="97.2" y2="-8.2" stroke="#fff" stroke-width="1.3" opacity="0.85"/>
<line x1="24.7" y1="59.6" x2="25.0" y2="67.9" stroke="#fff" stroke-width="0.8" opacity="0.85"/>
<line x1="37.7" y1="51.1" x2="48.0" y2="33.3" stroke="#fff" stroke-width="1.3" opacity="0.85"/>
<line x1="15.6" y1="26.5" x2="27.6" y2="7.3" stroke="#fff" stroke-width="0.6" opacity="0.85"/>
<path d="M2,2 L30,24" stroke="#222" stroke-width="0.8"/>
</g>
<path d="M40,66 Q48,62 56,61" fill="none" stroke="#d986c8" stroke-width="0.45"/>
<path d="M83,66 Q95,65 104,68 Q112,71 117,75" fill="none" stroke="#d986c8" stroke-width="0.45"/>
<path d="M86,71 Q98,72 110,76 Q116,79 118,82" fill="none" stroke="#d986c8" stroke-width="0.45"/>
<path d="M80,84 Q92,85 104,88 Q110,90 114,93" fill="none" stroke="#d986c8" stroke-width="0.45"/>
<path d="M92,94 Q98,90 104,95" fill="none" stroke="#d986c8" stroke-width="0.45"/>
<path d="M60,68 Q66,64 72,66 Q76,70 78,76" fill="none" stroke="#d986c8" stroke-width="0.45"/>
<path d="M64,52 Q70,56 74,62 Q78,66 80,70" fill="none" stroke="#d986c8" stroke-width="0.45"/>
<path d="M70,58 Q74,64 76,70" fill="none" stroke="#d986c8" stroke-width="0.45"/>
</g>
<polygon points="0.0,0.0 10.0,1.0 30.0,10.6 44.0,15.6 47.0,16.6 60.6,24.2 74.3,32.8 79.0,35.6 84.4,38.6 92.3,45.9 105.0,59.3 106.4,60.4 119.3,68.6 124.3,72.9 125.7,77.9 125.5,80.6 108.6,106.6 53.0,84.6 44.6,94.6 30.7,78.6 24.0,68.6 1.2,30.0" fill="none" stroke="#8a8a8a" stroke-width="0.35"/>
<path d="M77.6,94.7 L76.6,92.7 L75.9,90.4 L75.6,88.6 L74.5,85.5 L73.5,83.4 L74.6,82.6 L75.6,81.4 L77.6,80.3 L78.4,79.6 L79.7,78.3 L81.7,77.2 L82.6,76.6 L83.8,75.2 L82.6,74.0 L81.7,72.5 L82.8,70.0 L82.4,68.4 L81.7,66.9 L83.8,64.9 L85.8,64.6 L87.9,63.9 L91.0,64.9 L94.1,67.0 L96.2,67.2 L98.2,68.0 L101.3,69.0 L104.4,70.0 L107.5,72.5 L110.6,73.7 L113.5,74.5 L115.7,74.6 L117.8,74.2 L117.3,73.2 L115.5,72.8 L113.0,72.6 L110.8,71.8 L108.9,69.6 L107.9,68.2 L107.5,67.0 L106.8,64.8 L106.4,62.8 L105.4,59.6" fill="none" stroke="#2a9a50" stroke-width="0.7" stroke-linejoin="round"/>
<path d="M120.5,69.8 L121.4,72.2 L123.4,74.8 L125.2,76.6" fill="none" stroke="#2a9a50" stroke-width="0.7"/>
<path d="M104.5,105.0 L104.6,99.6 L106.1,98.4 L109.0,98.8 L111.0,99.8 L112.3,101.3" fill="none" stroke="#2a9a50" stroke-width="0.7"/>
<ellipse cx="88.6" cy="89.6" rx="0.8" ry="1.0" fill="#2a9a50"/>
<ellipse cx="88.9" cy="93.2" rx="0.9" ry="1.4" fill="#2a9a50"/>
<path d="M91.4,88.6 L93.2,92.5 L95.6,96.4" fill="none" stroke="#2a9a50" stroke-width="1.8" stroke-linecap="round"/>
</g>
<defs><filter id="fd" color-interpolation-filters="sRGB" x="0" y="0" width="1" height="1"><feTurbulence type="fractalNoise" baseFrequency="0.11 0.2" numOctaves="4" seed="5" result="noise"/><feColorMatrix in="noise" type="matrix" values="1 0 0 0 0  1 0 0 0 0  1 0 0 0 0  0 0 0 0 1" result="ng"/><feComposite in="SourceGraphic" in2="ng" operator="arithmetic" k1="0" k2="1" k3="0.75" k4="-0.375" result="sum"/><feComponentTransfer in="sum"><feFuncR type="table" tableValues="0.992 0.980 0.969 0.961 0.953 0.949 0.945 0.949 0.953 0.953 0.949 0.949 0.945 0.941 0.937 0.929 0.925 0.918 0.910 0.894 0.875 0.855 0.824 0.796 0.753 0.702 0.651 0.569 0.482 0.396 0.310 0.235 0.157"/><feFuncG type="table" tableValues="0.984 0.961 0.937 0.906 0.867 0.824 0.784 0.741 0.702 0.663 0.627 0.592 0.557 0.518 0.482 0.447 0.416 0.384 0.349 0.306 0.263 0.227 0.196 0.165 0.149 0.141 0.133 0.141 0.149 0.161 0.173 0.188 0.208"/><feFuncB type="table" tableValues="0.941 0.867 0.792 0.718 0.651 0.596 0.549 0.518 0.486 0.463 0.447 0.435 0.424 0.416 0.408 0.404 0.400 0.404 0.408 0.427 0.443 0.463 0.482 0.506 0.518 0.529 0.541 0.553 0.565 0.569 0.573 0.569 0.561"/><feFuncA type="table" tableValues="1 1"/></feComponentTransfer></filter><filter id="fd2" color-interpolation-filters="sRGB" x="0" y="0" width="1" height="1"><feTurbulence type="fractalNoise" baseFrequency="0.08 0.2" numOctaves="3" seed="8" result="noise"/><feColorMatrix in="noise" type="matrix" values="1 0 0 0 0  1 0 0 0 0  1 0 0 0 0  0 0 0 0 1" result="ng"/><feComposite in="SourceGraphic" in2="ng" operator="arithmetic" k1="0" k2="1" k3="0.16" k4="-0.08" result="sum"/><feComponentTransfer in="sum"><feFuncR type="table" tableValues="0.992 0.980 0.969 0.961 0.953 0.949 0.945 0.949 0.953 0.953 0.949 0.949 0.945 0.941 0.937 0.929 0.925 0.918 0.910 0.894 0.875 0.855 0.824 0.796 0.753 0.702 0.651 0.569 0.482 0.396 0.310 0.235 0.157"/><feFuncG type="table" tableValues="0.984 0.961 0.937 0.906 0.867 0.824 0.784 0.741 0.702 0.663 0.627 0.592 0.557 0.518 0.482 0.447 0.416 0.384 0.349 0.306 0.263 0.227 0.196 0.165 0.149 0.141 0.133 0.141 0.149 0.161 0.173 0.188 0.208"/><feFuncB type="table" tableValues="0.941 0.867 0.792 0.718 0.651 0.596 0.549 0.518 0.486 0.463 0.447 0.435 0.424 0.416 0.408 0.404 0.400 0.404 0.408 0.427 0.443 0.463 0.482 0.506 0.518 0.529 0.541 0.553 0.565 0.569 0.573 0.569 0.561"/><feFuncA type="table" tableValues="1 1"/></feComponentTransfer></filter></defs>
<g transform="translate(184.6,147.5) scale(1.0)">
<g clip-path="url(#clp)">
<g transform="rotate(33 62 52)"><g filter="url(#fd)"><g transform="rotate(-33 62 52)">
<rect x="-40" y="-40" width="210" height="190" fill="rgb(99,99,99)"/>
<g filter="url(#bl4)"><polygon points="-8,-8 40,8 64,26 66,50 52,62 34,80 10,62 -8,40" fill="rgb(26,26,26)"/><ellipse cx="60" cy="56" rx="14" ry="6" fill="rgb(76,76,76)" transform="rotate(30 60 56)"/></g>
<g filter="url(#bl2)"><polygon points="80,40 92,47 104,58 116,68 112,73 102,70 92,66 84,60 78,50" fill="rgb(158,158,158)"/><polygon points="44,84 56,77 72,80 84,90 80,99 60,94" fill="rgb(184,184,184)"/><ellipse cx="110" cy="104" rx="4" ry="3" fill="rgb(191,191,191)"/></g>
<circle cx="10.4" cy="5.1" r="1.6" fill="rgb(255,255,255)"/><circle cx="13.4" cy="47.1" r="1.8" fill="rgb(255,255,255)"/>
</g></g></g>
<g filter="url(#bl1)"><polygon points="50,85.5 54,80 62,78.5 70,80 76,84 79,88 78,95 60,89" fill="#c4308a"/><ellipse cx="90" cy="52" rx="9.5" ry="5.5" fill="#cc3c88" opacity="0.9" transform="rotate(40 90 52)"/><ellipse cx="101" cy="63" rx="7" ry="3.5" fill="#d85088" opacity="0.7" transform="rotate(38 101 63)"/></g>
<g clip-path="url(#shelfclip)"><g filter="url(#fd2)">
<rect x="60" y="55" width="72" height="60" fill="rgb(94,94,94)"/>
<g filter="url(#bl2)"><ellipse cx="98" cy="86" rx="13" ry="3" fill="rgb(87,87,87)" transform="rotate(22 98 86)"/><ellipse cx="90" cy="78" rx="9" ry="2" fill="rgb(76,76,76)" transform="rotate(18 90 78)"/><ellipse cx="120" cy="80" rx="6" ry="5" fill="rgb(153,153,153)"/><polygon points="106,58 119,67 124.3,72.9 126,78 125.5,82 120,80 113,76.5 107,70" fill="rgb(158,158,158)"/><ellipse cx="116" cy="90" rx="5" ry="6" fill="rgb(133,133,133)"/><ellipse cx="110" cy="104" rx="4" ry="3" fill="rgb(168,168,168)"/><ellipse cx="114" cy="67" rx="6" ry="3" fill="rgb(153,153,153)" transform="rotate(35 114 67)"/></g>
</g></g>
<polygon points="104.5,105.2 104.6,99.6 106.1,98.4 109,98.8 111,99.8 112.4,101.3 108.6,106.6" fill="#9c2a8e"/>
</g>
<polygon points="0.0,0.0 10.0,1.0 30.0,10.6 44.0,15.6 47.0,16.6 60.6,24.2 74.3,32.8 79.0,35.6 84.4,38.6 92.3,45.9 105.0,59.3 106.4,60.4 119.3,68.6 124.3,72.9 125.7,77.9 125.5,80.6 108.6,106.6 53.0,84.6 44.6,94.6 30.7,78.6 24.0,68.6 1.2,30.0" fill="none" stroke="#a08a7a" stroke-width="0.3"/>
<path d="M77.6,94.7 L76.6,92.7 L75.9,90.4 L75.6,88.6 L74.5,85.5 L73.5,83.4 L74.6,82.6 L75.6,81.4 L77.6,80.3 L78.4,79.6 L79.7,78.3 L81.7,77.2 L82.6,76.6 L83.8,75.2 L82.6,74.0 L81.7,72.5 L82.8,70.0 L82.4,68.4 L81.7,66.9 L83.8,64.9 L85.8,64.6 L87.9,63.9 L91.0,64.9 L94.1,67.0 L96.2,67.2 L98.2,68.0 L101.3,69.0 L104.4,70.0 L107.5,72.5 L110.6,73.7 L113.5,74.5 L115.7,74.6 L117.8,74.2 L117.3,73.2 L115.5,72.8 L113.0,72.6 L110.8,71.8 L108.9,69.6 L107.9,68.2 L107.5,67.0 L106.8,64.8 L106.4,62.8 L105.4,59.6" fill="none" stroke="#2a8440" stroke-width="1.15" stroke-linejoin="round"/>
<path d="M120.5,69.8 L121.4,72.2 L123.4,74.8 L125.2,76.6" fill="none" stroke="#2a8440" stroke-width="1.15"/>
<path d="M104.5,105.0 L104.6,99.6 L106.1,98.4 L109.0,98.8 L111.0,99.8 L112.3,101.3" fill="none" stroke="#2a8440" stroke-width="1.15"/>
<ellipse cx="88.6" cy="89.6" rx="0.8" ry="1.0" fill="#2a8440"/>
<ellipse cx="88.9" cy="93.2" rx="0.9" ry="1.4" fill="#2a8440"/>
<path d="M91.4,88.6 L93.2,92.5 L95.6,96.4" fill="none" stroke="#2a8440" stroke-width="1.8" stroke-linecap="round"/>
</g>
<g transform="translate(6.5,283.0) scale(1.0)">
<polygon points="0.0,0.0 10.0,1.0 30.0,10.6 44.0,15.6 47.0,16.6 60.6,24.2 74.3,32.8 79.0,35.6 84.4,38.6 92.3,45.9 105.0,59.3 106.4,60.4 119.3,68.6 124.3,72.9 125.7,77.9 125.5,80.6 108.6,106.6 53.0,84.6 44.6,94.6 30.7,78.6 24.0,68.6 1.2,30.0" fill="#ffffff"/>
<g clip-path="url(#clp)">
<g filter="url(#bl4)">
<polygon points="12,14 30,18 50,30 66,48 76,62 70,76 50,80 30,80 18,70 6,40" fill="#fbf5de" opacity="0.7"/>
</g>
<g filter="url(#bl1)" fill="none" stroke-linecap="round" stroke-linejoin="round">
<path d="M14.0,9.0 L22.0,13.0 L30.0,18.0 L38.0,25.0" stroke="#f4e8bc" stroke-width="3.0"/>
<path d="M6.0,29.0 L16.0,32.0 L24.0,35.0 L34.0,41.0 L42.0,46.0 L54.0,53.0 L64.0,58.0" stroke="#f2e2ac" stroke-width="3.4"/>
<path d="M12.0,44.0 L22.0,47.0 L34.0,53.0 L46.0,58.0 L58.0,62.0" stroke="#f4e6b8" stroke-width="2.2"/>
<path d="M16.0,56.0 L26.0,60.0 L36.0,63.0 L46.0,64.0" stroke="#f3e4b4" stroke-width="2.4"/>
<path d="M24.0,18.0 L34.0,28.0 L44.0,36.0 L54.0,41.0" stroke="#f4e4b2" stroke-width="2.0"/>
<path d="M18.0,72.0 L28.0,70.0 L36.0,69.0" stroke="#f3e2ae" stroke-width="2.6"/>
<path d="M30.0,8.0 L40.0,14.0 L50.0,22.0 L58.0,32.0" stroke="#f6eccb" stroke-width="1.6"/>
<path d="M8.0,40.0 L18.0,50.0 L28.0,62.0 L36.0,74.0" stroke="#f6ecc8" stroke-width="2.0"/>
</g>
<defs><linearGradient id="gt1" gradientUnits="userSpaceOnUse" x1="36" y1="24" x2="78" y2="65"><stop offset="0" stop-color="#f6dcaa"/><stop offset="0.2" stop-color="#f5c088"/><stop offset="0.36" stop-color="#f3a26c"/><stop offset="0.52" stop-color="#ee8070"/><stop offset="0.68" stop-color="#e46478"/><stop offset="0.84" stop-color="#d4447f"/><stop offset="1" stop-color="#a82c8c"/></linearGradient><linearGradient id="gt2" gradientUnits="userSpaceOnUse" x1="28" y1="68" x2="75" y2="76"><stop offset="0" stop-color="#f6cc98"/><stop offset="0.3" stop-color="#f29c70"/><stop offset="0.6" stop-color="#e86e76"/><stop offset="0.85" stop-color="#d04a80"/><stop offset="1" stop-color="#a02e8c"/></linearGradient><linearGradient id="gt3" gradientUnits="userSpaceOnUse" x1="36" y1="58" x2="60" y2="68"><stop offset="0" stop-color="#f6d4a0"/><stop offset="1" stop-color="#f09a70"/></linearGradient></defs>
<g filter="url(#bl05)" fill="none" stroke-linecap="round" stroke-linejoin="round">
<path d="M36,24 L44,30.1 L51.9,35.3 L58.3,39.5 L62.3,45.6 L67.3,53.3 L73.7,59.7 L77.6,64.9" stroke="url(#gt1)" stroke-width="4.4"/>
<path d="M28.7,68.7 L41.6,67.4 L54.4,68.7 L67.3,71.3 L75,76.4" stroke="url(#gt2)" stroke-width="5.6"/>
<path d="M30,62 L40,62.5 L50,64.5 L60,67" stroke="url(#gt3)" stroke-width="2.4" opacity="0.8"/>
<path d="M36.4,58.4 L46.7,62.3 L54.4,66.1 L60,68" stroke="url(#gt3)" stroke-width="2.6"/>
</g>
<defs><linearGradient id="ge" gradientUnits="userSpaceOnUse" x1="92" y1="68" x2="86" y2="102"><stop offset="0" stop-color="#d23e84"/><stop offset="0.35" stop-color="#de5279"/><stop offset="0.62" stop-color="#ea746e"/><stop offset="1" stop-color="#f4a866"/></linearGradient></defs>
<g filter="url(#bl05)">
<polygon points="70,72 78,64 84,66 100,70 112,73 124,77 126,80 108.6,106.6 90,99.3 77,94.2 72,86" fill="url(#ge)"/>
</g>
<g filter="url(#bl1)">
<ellipse cx="77.3" cy="64.5" rx="1.8" ry="3" fill="#3a3c98" transform="rotate(-35 77.3 64.5)"/>
<ellipse cx="73" cy="77" rx="2" ry="1.6" fill="#7a2e92"/>
<ellipse cx="80" cy="70" rx="3" ry="2.4" fill="#a02a8c"/>
</g>
<polygon points="104.5,105.2 104.6,99.6 106.1,98.4 109,98.8 111,99.8 112.4,101.3 108.6,106.6" fill="#fff"/>
<g clip-path="url(#shelfclip)"><polygon points="106,60 120,68 124,73 118,75 112,73 108,68" fill="#fff" filter="url(#bl05)"/></g>
</g>
<polygon points="0.0,0.0 10.0,1.0 30.0,10.6 44.0,15.6 47.0,16.6 60.6,24.2 74.3,32.8 79.0,35.6 84.4,38.6 92.3,45.9 105.0,59.3 106.4,60.4 119.3,68.6 124.3,72.9 125.7,77.9 125.5,80.6 108.6,106.6 53.0,84.6 44.6,94.6 30.7,78.6 24.0,68.6 1.2,30.0" fill="none" stroke="#9a9a9a" stroke-width="0.35"/>
<path d="M77.6,94.7 L76.6,92.7 L75.9,90.4 L75.6,88.6 L74.5,85.5 L73.5,83.4 L74.6,82.6 L75.6,81.4 L77.6,80.3 L78.4,79.6 L79.7,78.3 L81.7,77.2 L82.6,76.6 L83.8,75.2 L82.6,74.0 L81.7,72.5 L82.8,70.0 L82.4,68.4 L81.7,66.9 L83.8,64.9 L85.8,64.6 L87.9,63.9 L91.0,64.9 L94.1,67.0 L96.2,67.2 L98.2,68.0 L101.3,69.0 L104.4,70.0 L107.5,72.5 L110.6,73.7 L113.5,74.5 L115.7,74.6 L117.8,74.2 L117.3,73.2 L115.5,72.8 L113.0,72.6 L110.8,71.8 L108.9,69.6 L107.9,68.2 L107.5,67.0 L106.8,64.8 L106.4,62.8 L105.4,59.6" fill="none" stroke="#2a8a46" stroke-width="1.15" stroke-linejoin="round"/>
<path d="M120.5,69.8 L121.4,72.2 L123.4,74.8 L125.2,76.6" fill="none" stroke="#2a8a46" stroke-width="1.15"/>
<path d="M104.5,105.0 L104.6,99.6 L106.1,98.4 L109.0,98.8 L111.0,99.8 L112.3,101.3" fill="none" stroke="#2a8a46" stroke-width="1.15"/>
<ellipse cx="88.6" cy="89.6" rx="0.8" ry="1.0" fill="#2a8a46"/>
<ellipse cx="88.9" cy="93.2" rx="0.9" ry="1.4" fill="#2a8a46"/>
<path d="M91.4,88.6 L93.2,92.5 L95.6,96.4" fill="none" stroke="#2a8a46" stroke-width="1.8" stroke-linecap="round"/>
</g>
<defs><filter id="ff" color-interpolation-filters="sRGB" x="0" y="0" width="1" height="1"><feTurbulence type="fractalNoise" baseFrequency="0.13 0.2" numOctaves="4" seed="12" result="noise"/><feColorMatrix in="noise" type="matrix" values="1 0 0 0 0  1 0 0 0 0  1 0 0 0 0  0 0 0 0 1" result="ng"/><feComposite in="SourceGraphic" in2="ng" operator="arithmetic" k1="0" k2="1" k3="0.32" k4="-0.16" result="sum"/><feComponentTransfer in="sum"><feFuncR type="table" tableValues="0.992 0.980 0.969 0.961 0.953 0.949 0.945 0.949 0.953 0.953 0.949 0.949 0.945 0.941 0.937 0.929 0.925 0.918 0.910 0.894 0.875 0.855 0.824 0.796 0.753 0.702 0.651 0.569 0.482 0.396 0.310 0.235 0.157"/><feFuncG type="table" tableValues="0.984 0.961 0.937 0.906 0.867 0.824 0.784 0.741 0.702 0.663 0.627 0.592 0.557 0.518 0.482 0.447 0.416 0.384 0.349 0.306 0.263 0.227 0.196 0.165 0.149 0.141 0.133 0.141 0.149 0.161 0.173 0.188 0.208"/><feFuncB type="table" tableValues="0.941 0.867 0.792 0.718 0.651 0.596 0.549 0.518 0.486 0.463 0.447 0.435 0.424 0.416 0.408 0.404 0.400 0.404 0.408 0.427 0.443 0.463 0.482 0.506 0.518 0.529 0.541 0.553 0.565 0.569 0.573 0.569 0.561"/><feFuncA type="table" tableValues="1 1"/></feComponentTransfer></filter><filter id="ff2" color-interpolation-filters="sRGB" x="0" y="0" width="1" height="1"><feTurbulence type="fractalNoise" baseFrequency="0.1 0.2" numOctaves="3" seed="14" result="noise"/><feColorMatrix in="noise" type="matrix" values="1 0 0 0 0  1 0 0 0 0  1 0 0 0 0  0 0 0 0 1" result="ng"/><feComposite in="SourceGraphic" in2="ng" operator="arithmetic" k1="0" k2="1" k3="0.1" k4="-0.05" result="sum"/><feComponentTransfer in="sum"><feFuncR type="table" tableValues="0.992 0.980 0.969 0.961 0.953 0.949 0.945 0.949 0.953 0.953 0.949 0.949 0.945 0.941 0.937 0.929 0.925 0.918 0.910 0.894 0.875 0.855 0.824 0.796 0.753 0.702 0.651 0.569 0.482 0.396 0.310 0.235 0.157"/><feFuncG type="table" tableValues="0.984 0.961 0.937 0.906 0.867 0.824 0.784 0.741 0.702 0.663 0.627 0.592 0.557 0.518 0.482 0.447 0.416 0.384 0.349 0.306 0.263 0.227 0.196 0.165 0.149 0.141 0.133 0.141 0.149 0.161 0.173 0.188 0.208"/><feFuncB type="table" tableValues="0.941 0.867 0.792 0.718 0.651 0.596 0.549 0.518 0.486 0.463 0.447 0.435 0.424 0.416 0.408 0.404 0.400 0.404 0.408 0.427 0.443 0.463 0.482 0.506 0.518 0.529 0.541 0.553 0.565 0.569 0.573 0.569 0.561"/><feFuncA type="table" tableValues="1 1"/></feComponentTransfer></filter></defs>
<defs><linearGradient id="gfv" gradientUnits="userSpaceOnUse" x1="4" y1="40" x2="104" y2="30"><stop offset="0" stop-color="rgb(255,255,255)"/><stop offset="0.1" stop-color="rgb(255,255,255)"/><stop offset="0.16" stop-color="rgb(222,222,222)"/><stop offset="0.22" stop-color="rgb(201,201,201)"/><stop offset="0.32" stop-color="rgb(184,184,184)"/><stop offset="0.42" stop-color="rgb(153,153,153)"/><stop offset="0.5" stop-color="rgb(128,128,128)"/><stop offset="0.6" stop-color="rgb(102,102,102)"/><stop offset="0.72" stop-color="rgb(79,79,79)"/><stop offset="0.85" stop-color="rgb(59,59,59)"/><stop offset="1" stop-color="rgb(43,43,43)"/></linearGradient></defs>
<g transform="translate(184.6,288.9) scale(1.01)">
<g clip-path="url(#clp)">
<g transform="rotate(30 62 52)"><g filter="url(#ff)"><g transform="rotate(-30 62 52)">
<rect x="-40" y="-40" width="210" height="190" fill="url(#gfv)"/>
<g filter="url(#bl2)"><polygon points="-8,-8 20,-2 19,12 16,24 12,34 8,44 -8,44" fill="rgb(255,255,255)"/><polygon points="0,46 12,46 24,60 36,75 48,92 44,100 30,86 20,72 5,58" fill="rgb(189,189,189)"/></g>
<g filter="url(#bl4)"><ellipse cx="64" cy="30" rx="10" ry="5" fill="rgb(122,122,122)" transform="rotate(30 64 30)"/></g>
</g></g></g>
<polygon points="-8,-8 15,-2 13,12 10,24 7,32 3,38 -8,38" fill="#2c3e9e" opacity="0.7" filter="url(#bl2)"/>
<g clip-path="url(#shelfclip)"><g filter="url(#ff2)">
<rect x="60" y="55" width="72" height="60" fill="rgb(46,46,46)"/>
<g filter="url(#bl4)"><ellipse cx="84" cy="76" rx="8" ry="6" fill="rgb(56,56,56)"/><ellipse cx="118" cy="80" rx="6" ry="5" fill="rgb(31,31,31)"/><ellipse cx="100" cy="98" rx="10" ry="5" fill="rgb(38,38,38)"/></g>
</g></g>
</g>
<polygon points="0.0,0.0 10.0,1.0 30.0,10.6 44.0,15.6 47.0,16.6 60.6,24.2 74.3,32.8 79.0,35.6 84.4,38.6 92.3,45.9 105.0,59.3 106.4,60.4 119.3,68.6 124.3,72.9 125.7,77.9 125.5,80.6 108.6,106.6 53.0,84.6 44.6,94.6 30.7,78.6 24.0,68.6 1.2,30.0" fill="none" stroke="#a08a7a" stroke-width="0.3"/>
<path d="M77.6,94.7 L76.6,92.7 L75.9,90.4 L75.6,88.6 L74.5,85.5 L73.5,83.4 L74.6,82.6 L75.6,81.4 L77.6,80.3 L78.4,79.6 L79.7,78.3 L81.7,77.2 L82.6,76.6 L83.8,75.2 L82.6,74.0 L81.7,72.5 L82.8,70.0 L82.4,68.4 L81.7,66.9 L83.8,64.9 L85.8,64.6 L87.9,63.9 L91.0,64.9 L94.1,67.0 L96.2,67.2 L98.2,68.0 L101.3,69.0 L104.4,70.0 L107.5,72.5 L110.6,73.7 L113.5,74.5 L115.7,74.6 L117.8,74.2 L117.3,73.2 L115.5,72.8 L113.0,72.6 L110.8,71.8 L108.9,69.6 L107.9,68.2 L107.5,67.0 L106.8,64.8 L106.4,62.8 L105.4,59.6" fill="none" stroke="#2a8a46" stroke-width="1.15" stroke-linejoin="round"/>
<path d="M120.5,69.8 L121.4,72.2 L123.4,74.8 L125.2,76.6" fill="none" stroke="#2a8a46" stroke-width="1.15"/>
<path d="M104.5,105.0 L104.6,99.6 L106.1,98.4 L109.0,98.8 L111.0,99.8 L112.3,101.3" fill="none" stroke="#2a8a46" stroke-width="1.15"/>
<ellipse cx="88.6" cy="89.6" rx="0.8" ry="1.0" fill="#2a8a46"/>
<ellipse cx="88.9" cy="93.2" rx="0.9" ry="1.4" fill="#2a8a46"/>
<path d="M91.4,88.6 L93.2,92.5 L95.6,96.4" fill="none" stroke="#2a8a46" stroke-width="1.8" stroke-linecap="round"/>
</g>
<g transform="translate(6.6,431.2) scale(1.0)">
<polygon points="0.0,0.0 10.0,1.0 30.0,10.6 44.0,15.6 47.0,16.6 60.6,24.2 74.3,32.8 79.0,35.6 84.4,38.6 92.3,45.9 105.0,59.3 106.4,60.4 119.3,68.6 124.3,72.9 125.7,77.9 125.5,80.6 108.6,106.6 53.0,84.6 44.6,94.6 30.7,78.6 24.0,68.6 1.2,30.0" fill="#ffffff"/>
<g clip-path="url(#clp)">
<g filter="url(#bl4)">
<polygon points="14,18 34,22 54,34 68,50 80,64 76,78 56,80 34,78 20,66 8,40" fill="#fdf9ea" opacity="0.55"/>
</g>
<g clip-path="url(#shelfclip)"><rect x="60" y="55" width="70" height="60" fill="#fdf8e6"/>
<g filter="url(#bl1)" fill="none">
<path d="M82,68 L92,67 L102,70 L112,74 L124,78" stroke="#f3cc88" stroke-width="2.2"/>
<path d="M76,96 L90,99 L106,103" stroke="#f5d898" stroke-width="2"/>
<path d="M84,80 L100,84 L116,88" stroke="#f8e6b8" stroke-width="1.5"/>
</g></g>
<g fill="none" stroke-linecap="round" stroke-linejoin="round">
<path d="M5.6,18.5 L12.6,20.8 L16.9,22.3 L24.3,24.7 L30.8,28.8" stroke="#f8e8bc" stroke-width="0.4" opacity="0.8"/>
<path d="M29.1,38.0 L37.7,40.5 L40.8,43.2 L46.5,45.2 L51.6,47.6" stroke="#f8e8bc" stroke-width="0.4" opacity="0.8"/>
<path d="M37.6,36.1 L41.6,37.6 L46.1,39.5 L49.7,42.7 L55.1,44.8" stroke="#f7dfae" stroke-width="0.6" opacity="0.8"/>
<path d="M41.4,24.0 L46.7,26.4 L53.9,30.2 L58.8,32.3 L64.8,35.5" stroke="#f4d89a" stroke-width="0.4" opacity="0.8"/>
<path d="M48.9,69.6 L53.9,72.1 L59.6,76.4 L66.3,79.4 L69.6,83.1" stroke="#f4d89a" stroke-width="0.6" opacity="0.8"/>
<path d="M48.1,50.8 L52.6,54.0 L60.7,56.2 L65.4,58.0 L71.3,59.3" stroke="#f6e2a8" stroke-width="0.5" opacity="0.8"/>
<path d="M9.4,69.0 L14.2,70.5 L20.6,74.6 L26.5,77.0 L34.1,79.2" stroke="#f4d89a" stroke-width="0.6" opacity="0.8"/>
<path d="M27.1,46.3 L31.6,50.9 L37.2,55.1 L44.6,58.3 L49.2,62.9" stroke="#f7dfae" stroke-width="0.5" opacity="0.8"/>
<path d="M15.7,17.6 L20.0,22.1 L23.9,24.7 L29.0,29.5 L35.5,35.0" stroke="#f4d89a" stroke-width="0.6" opacity="0.8"/>
<path d="M13.3,38.4 L18.0,43.0 L23.0,46.4 L29.3,50.5 L35.7,54.6" stroke="#f8e8bc" stroke-width="0.5" opacity="0.8"/>
<path d="M10.6,57.4 L17.2,63.1 L23.4,66.0 L31.0,69.4 L36.6,71.9" stroke="#f7dfae" stroke-width="0.5" opacity="0.8"/>
<path d="M14.2,63.6 L19.7,67.9 L23.8,71.3 L27.6,73.1 L35.3,75.8" stroke="#f8e8bc" stroke-width="0.5" opacity="0.8"/>
<path d="M41.6,33.1 L49.0,36.5 L53.7,38.2 L58.4,41.4 L63.2,44.8" stroke="#f6e2a8" stroke-width="0.4" opacity="0.8"/>
<path d="M44.8,52.2 L49.5,56.4 L55.4,60.7 L59.2,62.7 L64.7,68.6" stroke="#f6e2a8" stroke-width="0.5" opacity="0.8"/>
<path d="M22.1,55.9 L29.6,60.0 L34.6,63.4 L39.1,65.9 L46.5,69.6" stroke="#f4d89a" stroke-width="0.4" opacity="0.8"/>
<path d="M35.2,53.1 L43.2,56.0 L48.4,57.8 L56.8,59.9 L64.4,62.3" stroke="#f8e8bc" stroke-width="0.6" opacity="0.8"/>
<path d="M44.9,56.5 L50.6,60.3 L55.0,63.0 L60.1,66.3 L65.4,67.2" stroke="#f6e2a8" stroke-width="0.5" opacity="0.8"/>
<path d="M16.2,40.5 L20.4,42.7 L25.3,45.2 L29.9,49.1 L35.3,52.2" stroke="#f6e2a8" stroke-width="0.5" opacity="0.8"/>
<path d="M41.1,37.5 L46.4,41.2 L53.0,46.5 L59.9,49.8 L64.5,51.2" stroke="#f4d89a" stroke-width="0.4" opacity="0.8"/>
<path d="M47.1,34.7 L53.4,38.2 L58.0,40.3 L64.7,45.2 L71.6,50.0" stroke="#f7dfae" stroke-width="0.4" opacity="0.8"/>
<path d="M41.7,54.6 L46.7,60.5 L51.4,64.5 L57.8,69.2 L61.3,72.3" stroke="#f8e8bc" stroke-width="0.4" opacity="0.8"/>
<path d="M34.0,39.2 L38.5,42.6 L45.0,47.2 L50.7,51.1 L56.7,52.5" stroke="#f8e8bc" stroke-width="0.5" opacity="0.8"/>
<g filter="url(#bl05)">
<path d="M30.0,20.0 L36.0,23.0 L42.0,25.5 L48.0,29.0 L55.0,33.5 L61.0,40.0 L66.0,48.0 L70.0,53.0 L75.0,58.0 L80.0,64.0" stroke="#f9e4c0" stroke-width="2.0" fill="none"/>
<path d="M36.0,28.0 L42.0,31.0 L48.0,35.0 L53.0,40.0 L58.0,44.5 L62.0,51.0 L66.0,57.0 L71.0,62.0 L78.0,65.5" stroke="#f9e6c4" stroke-width="1.8" fill="none"/>
<path d="M36.0,55.0 L44.0,57.5 L52.0,61.0 L60.0,65.0 L69.0,67.4 L77.7,69.5" stroke="#f9e2bc" stroke-width="1.8" fill="none"/>
<path d="M30.0,68.0 L37.0,69.5 L45.5,71.7 L56.3,74.9 L64.8,78.1 L71.3,82.4" stroke="#f9e4c0" stroke-width="1.6" fill="none"/>
</g>
<path d="M28.0,21.0 L34.8,24.5 L40.0,26.5 L45.5,28.8 L50.0,30.8" stroke="#f4c890" stroke-width="0.7"/>
<path d="M50.0,30.8 L54.1,33.1 L58.4,37.4 L62.7,43.8" stroke="#f0a060" stroke-width="0.9"/>
<path d="M62.7,43.8 L67.0,50.2 L71.3,56.7 L75.5,63.1" stroke="#e66a58" stroke-width="1.0"/>
<path d="M75.5,63.1 L79.8,66.3" stroke="#a83490" stroke-width="1.0"/>
<path d="M33.0,28.5 L39.1,31.0 L44.0,34.0 L49.8,37.4" stroke="#f4c890" stroke-width="0.7"/>
<path d="M49.8,37.4 L56.3,41.7 L59.5,45.9 L62.7,52.4" stroke="#f2a868" stroke-width="0.9"/>
<path d="M62.7,52.4 L67.0,58.8 L73.4,64.2 L77.7,66.3" stroke="#e8705a" stroke-width="1.0"/>
<path d="M30.0,53.0 L36.0,55.0 L41.3,56.7 L46.0,58.5" stroke="#f4c890" stroke-width="0.7"/>
<path d="M46.0,58.5 L52.0,60.9 L60.5,65.2" stroke="#f09a62" stroke-width="0.9"/>
<path d="M60.5,65.2 L69.1,67.4 L77.7,69.5" stroke="#dc5a66" stroke-width="1.0"/>
<path d="M30.0,68.0 L37.0,69.5 L45.5,71.7" stroke="#f4c48a" stroke-width="0.8"/>
<path d="M45.5,71.7 L56.3,74.9 L64.8,78.1" stroke="#f2b070" stroke-width="0.9"/>
<path d="M64.8,78.1 L71.3,82.4" stroke="#b03c88" stroke-width="1.0"/>
<path d="M34.8,67.4 L38.0,66.0 L42.0,67.0" stroke="#f0a868" stroke-width="0.7"/>
<path d="M78.0,66.0 L80.0,68.0 L82.0,70.0" stroke="#8a2e90" stroke-width="1.0"/>
<path d="M22.0,16.0 L28.0,19.0 L34.3,22.9" stroke="#f5d09a" stroke-width="0.6"/>
<path d="M16.0,52.0 L22.0,54.0 L30.0,58.0" stroke="#f5d4a0" stroke-width="0.6"/>
<path d="M24.0,64.0 L30.0,66.0 L34.3,69.2" stroke="#f5d4a0" stroke-width="0.6"/>
<path d="M40.0,40.0 L46.0,43.0 L52.0,47.0 L58.0,52.0 L63.0,58.0" stroke="#f3c890" stroke-width="0.6"/>
<path d="M26.0,36.0 L34.0,39.0 L42.0,42.0" stroke="#f6dcaa" stroke-width="0.5"/>
<path d="M44.0,50.0 L50.0,54.0 L56.0,57.0 L62.0,60.0" stroke="#f3c88e" stroke-width="0.6"/>
<path d="M48.0,22.0 L54.0,26.0 L60.0,31.0 L64.0,36.0" stroke="#f6d8a4" stroke-width="0.5"/>
</g>
</g>
<polygon points="0.0,0.0 10.0,1.0 30.0,10.6 44.0,15.6 47.0,16.6 60.6,24.2 74.3,32.8 79.0,35.6 84.4,38.6 92.3,45.9 105.0,59.3 106.4,60.4 119.3,68.6 124.3,72.9 125.7,77.9 125.5,80.6 108.6,106.6 53.0,84.6 44.6,94.6 30.7,78.6 24.0,68.6 1.2,30.0" fill="none" stroke="#9a9a9a" stroke-width="0.35"/>
<path d="M77.6,94.7 L76.6,92.7 L75.9,90.4 L75.6,88.6 L74.5,85.5 L73.5,83.4 L74.6,82.6 L75.6,81.4 L77.6,80.3 L78.4,79.6 L79.7,78.3 L81.7,77.2 L82.6,76.6 L83.8,75.2 L82.6,74.0 L81.7,72.5 L82.8,70.0 L82.4,68.4 L81.7,66.9 L83.8,64.9 L85.8,64.6 L87.9,63.9 L91.0,64.9 L94.1,67.0 L96.2,67.2 L98.2,68.0 L101.3,69.0 L104.4,70.0 L107.5,72.5 L110.6,73.7 L113.5,74.5 L115.7,74.6 L117.8,74.2 L117.3,73.2 L115.5,72.8 L113.0,72.6 L110.8,71.8 L108.9,69.6 L107.9,68.2 L107.5,67.0 L106.8,64.8 L106.4,62.8 L105.4,59.6" fill="none" stroke="#2a8a46" stroke-width="1.15" stroke-linejoin="round"/>
<path d="M120.5,69.8 L121.4,72.2 L123.4,74.8 L125.2,76.6" fill="none" stroke="#2a8a46" stroke-width="1.15"/>
<path d="M104.5,105.0 L104.6,99.6 L106.1,98.4 L109.0,98.8 L111.0,99.8 L112.3,101.3" fill="none" stroke="#2a8a46" stroke-width="1.15"/>
<ellipse cx="88.6" cy="89.6" rx="0.8" ry="1.0" fill="#2a8a46"/>
<ellipse cx="88.9" cy="93.2" rx="0.9" ry="1.4" fill="#2a8a46"/>
<path d="M91.4,88.6 L93.2,92.5 L95.6,96.4" fill="none" stroke="#2a8a46" stroke-width="1.8" stroke-linecap="round"/>
</g>
<defs><filter id="fh" color-interpolation-filters="sRGB" x="0" y="0" width="1" height="1"><feTurbulence type="fractalNoise" baseFrequency="0.16 0.4" numOctaves="3" seed="17" result="noise"/><feColorMatrix in="noise" type="matrix" values="1 0 0 0 0  1 0 0 0 0  1 0 0 0 0  0 0 0 0 1" result="ng"/><feComposite in="SourceGraphic" in2="ng" operator="arithmetic" k1="0" k2="1" k3="0.5" k4="-0.25" result="sum"/><feComponentTransfer in="sum"><feFuncR type="table" tableValues="0.992 0.980 0.969 0.961 0.953 0.949 0.945 0.949 0.953 0.953 0.949 0.949 0.945 0.941 0.937 0.929 0.925 0.918 0.910 0.894 0.875 0.855 0.824 0.796 0.753 0.702 0.651 0.569 0.482 0.396 0.310 0.235 0.157"/><feFuncG type="table" tableValues="0.984 0.961 0.937 0.906 0.867 0.824 0.784 0.741 0.702 0.663 0.627 0.592 0.557 0.518 0.482 0.447 0.416 0.384 0.349 0.306 0.263 0.227 0.196 0.165 0.149 0.141 0.133 0.141 0.149 0.161 0.173 0.188 0.208"/><feFuncB type="table" tableValues="0.941 0.867 0.792 0.718 0.651 0.596 0.549 0.518 0.486 0.463 0.447 0.435 0.424 0.416 0.408 0.404 0.400 0.404 0.408 0.427 0.443 0.463 0.482 0.506 0.518 0.529 0.541 0.553 0.565 0.569 0.573 0.569 0.561"/><feFuncA type="table" tableValues="1 1"/></feComponentTransfer></filter></defs>
<g transform="translate(183.7,428.0) scale(1.012)">
<g clip-path="url(#clp)">
<g transform="rotate(35 62 52)"><g filter="url(#fh)"><g transform="rotate(-35 62 52)">
<rect x="-40" y="-40" width="210" height="190" fill="rgb(79,79,79)"/>
<g filter="url(#bl2)"><ellipse cx="8" cy="14" rx="8" ry="12" fill="rgb(46,46,46)"/><ellipse cx="80" cy="46" rx="22" ry="3" fill="rgb(20,20,20)" transform="rotate(42 80 46)"/><ellipse cx="62" cy="30" rx="16" ry="3" fill="rgb(51,51,51)" transform="rotate(30 62 30)"/><ellipse cx="70" cy="62" rx="14" ry="3" fill="rgb(51,51,51)" transform="rotate(30 70 62)"/><ellipse cx="96" cy="60" rx="12" ry="3" fill="rgb(128,128,128)" transform="rotate(45 96 60)"/><ellipse cx="50" cy="80" rx="12" ry="3" fill="rgb(51,51,51)" transform="rotate(25 50 80)"/><ellipse cx="34" cy="54" rx="22" ry="14" fill="rgb(87,87,87)" transform="rotate(40 34 54)"/><ellipse cx="104" cy="70" rx="10" ry="3" fill="rgb(128,128,128)" transform="rotate(30 104 70)"/><ellipse cx="66" cy="44" rx="12" ry="2.5" fill="rgb(26,26,26)" transform="rotate(38 66 44)"/><ellipse cx="74" cy="62" rx="14" ry="2.5" fill="rgb(20,20,20)" transform="rotate(32 74 62)"/><ellipse cx="90" cy="68" rx="10" ry="2" fill="rgb(26,26,26)" transform="rotate(30 90 68)"/><ellipse cx="58" cy="56" rx="10" ry="2" fill="rgb(31,31,31)" transform="rotate(35 58 56)"/><ellipse cx="84" cy="40" rx="10" ry="2.5" fill="rgb(107,107,107)" transform="rotate(42 84 40)"/></g>
</g></g></g>
<path d="M28.3,55.8l1.2,-1.3M12.2,8.2l1.4,-1.6M58.0,27.7l1.3,-1.4M43.2,81.6l0.3,-1.6M15.0,34.3l0.8,-1.4M34.2,64.8l1.7,1.4M24.4,59.2l0.4,1.0M13.3,41.0l0.3,-1.4M35.6,65.0l0.5,-1.0M37.6,72.4l1.4,1.7M19.0,26.2l2.0,1.5M52.7,21.1l1.5,-2.0M24.0,36.8l1.1,-2.3M34.6,23.5l0.6,-1.5M40.8,62.9l0.4,-1.3M55.5,27.0l0.9,-0.9M35.3,53.2l0.8,-1.4M45.0,44.2l1.8,1.4M26.9,49.6l1.4,-1.6M29.9,57.9l0.6,0.9M32.8,52.1l1.3,-1.8M45.0,19.6l1.2,0.8M39.8,27.3l0.4,-1.2M28.5,49.2l1.2,1.1M51.2,27.9l0.6,-1.4M17.5,17.8l1.3,-1.5M33.2,46.7l1.8,-1.6M38.5,25.5l1.5,-1.9M46.2,17.6l1.1,-1.4M55.9,29.0l2.0,1.4M45.7,63.8l1.3,1.1M14.5,11.8l0.5,-1.9M22.2,13.9l1.7,1.4M45.3,32.2l0.9,-1.8M37.6,76.9l0.8,-1.0M34.8,69.9l0.8,1.0M36.0,54.3l1.4,1.8M42.2,30.4l0.9,-1.0M35.8,70.6l0.7,-0.8M26.7,48.2l1.5,1.0M47.0,36.0l2.0,1.3M19.6,25.0l1.7,1.2M39.9,15.7l0.7,0.9M25.7,34.7l0.7,1.5M20.1,44.9l1.1,-1.5M37.3,76.2l0.8,-2.2M34.9,41.8l1.6,0.8M46.5,21.3l0.9,-1.5M21.4,38.1l0.7,-0.9M32.8,29.4l0.9,1.8M21.3,18.1l1.4,-2.0M33.9,76.7l1.4,0.7M5.0,27.6l0.6,1.4M56.5,39.7l0.6,-1.9M24.2,22.6l0.8,-2.4M17.9,48.3l0.5,-0.9M39.2,27.0l1.8,1.6M24.5,52.8l1.7,0.9M38.1,67.3l0.8,-1.2M27.1,29.5l1.1,-1.5M32.9,36.1l0.8,-0.8M19.1,38.4l1.0,0.5M22.5,16.8l0.7,0.8M45.3,63.3l1.1,-1.3M10.9,7.6l0.4,-1.2M37.6,75.0l1.6,-1.5M26.6,42.3l1.4,-1.4M45.0,16.3l1.0,0.4M25.7,52.0l1.6,-1.9M33.6,44.0l1.6,-1.7M35.1,59.4l1.2,0.6M38.9,62.9l1.1,-2.2M21.1,32.8l0.9,-1.1M38.3,79.4l1.0,0.9M26.1,29.1l0.4,-1.6M28.1,32.3l0.7,-1.2M47.1,20.7l1.5,-1.4M47.4,24.8l1.0,1.3M29.8,54.9l0.7,2.0M28.8,62.6l0.7,0.9M35.0,26.6l1.1,0.8M49.2,24.5l1.1,-2.0M56.8,28.8l0.8,-1.7M28.3,41.7l0.9,0.8M50.7,32.1l1.3,-1.7M39.4,40.4l1.3,1.7M52.9,78.7l0.9,-2.2M51.8,25.4l0.8,1.1M20.1,38.0l0.6,-2.4M30.6,71.3l1.0,-1.6M42.3,21.9l1.2,2.2M36.3,74.1l1.2,-1.4M47.1,76.8l1.6,0.8M44.9,34.3l0.9,1.0M40.9,29.1l1.6,1.8M13.6,10.8l1.8,1.4M26.7,68.4l0.6,-0.9M22.3,50.4l1.1,0.9M40.4,53.0l0.9,-1.7M27.0,54.9l0.6,-1.6M44.2,78.2l0.8,-0.7M48.9,27.9l0.9,-1.1M45.7,27.8l0.4,-1.0M28.1,12.9l0.8,1.1M48.9,81.4l1.4,-1.5M36.3,32.8l1.1,-1.5M28.0,22.0l1.3,-1.9M27.0,34.2l1.8,1.1M42.8,69.9l0.8,-1.0M34.7,53.8l0.4,-1.4M32.9,35.9l1.3,1.0M17.8,11.3l1.8,-1.7M44.9,27.2l1.0,1.9M21.5,59.5l0.8,-0.7M16.8,8.7l1.0,-1.6M20.0,17.8l0.5,-1.7M30.6,38.8l1.4,0.7M43.9,26.3l1.3,1.3M47.8,47.0l1.1,2.2M45.4,79.8l0.5,-1.0M35.1,46.5l2.1,1.6M31.9,65.4l1.2,-1.2M30.4,66.3l0.6,1.3M30.3,30.5l1.6,-1.4M58.1,76.4l0.4,-1.3M28.2,30.1l1.1,1.9M31.3,39.9l0.9,0.8M14.0,24.8l1.4,2.1M51.1,32.4l0.6,1.3M38.9,19.7l1.5,0.6M25.0,49.3l0.8,0.9M44.4,63.3l0.6,-1.5M44.1,81.0l0.7,1.4M35.1,70.2l1.1,-1.2M12.4,35.9l0.6,-0.8M29.2,61.3l0.5,-0.9M27.0,30.3l0.8,1.3M23.9,34.5l0.9,0.7M42.7,19.3l1.1,-2.2M43.8,39.6l0.8,1.2M18.2,22.1l1.2,1.0M30.1,35.4l1.9,0.9M21.7,26.7l0.5,-1.5M14.1,46.4l1.0,1.2M43.2,82.4l1.0,-2.2M15.4,9.4l0.6,0.9M39.6,23.5l1.1,0.4M33.4,28.1l0.3,-1.6M52.3,22.8l1.0,-2.1M28.0,27.0l1.0,1.9M35.8,62.7l1.1,0.8M24.2,7.9l0.8,0.7M20.6,31.0l0.6,-1.5M29.3,22.9l0.6,-1.6M31.3,71.1l1.8,0.8M40.5,55.0l0.5,-1.2M33.1,54.9l0.5,-1.0M32.3,59.4l0.6,-2.4M49.4,19.0l1.4,-1.6M16.3,42.8l1.3,-1.5M33.4,62.0l1.0,1.3M29.5,72.9l1.6,1.2M35.6,60.3l1.1,1.8M50.5,28.4l1.6,1.2M51.5,26.6l1.0,1.1M33.9,65.1l1.3,-1.9M46.4,82.8l1.5,-1.4M36.7,62.3l1.5,1.0M19.8,23.6l1.5,1.7M22.9,41.5l0.9,-1.0M36.4,58.2l0.8,-1.0M30.9,61.0l1.4,1.9M17.8,16.7l1.5,1.0M39.1,29.4l0.9,-2.1M46.1,31.7l0.3,-1.6M31.5,33.1l0.9,-1.0M45.8,74.9l1.6,1.9M16.5,44.3l0.3,-1.1M43.6,61.3l0.3,-1.7M21.4,21.2l1.5,1.8M29.4,17.6l0.9,-1.3M48.3,57.1l1.5,0.7M36.5,45.6l0.8,-1.5M38.8,63.5l0.9,1.4M18.5,44.0l0.9,0.6M12.4,17.0l0.7,1.0M26.9,42.7l0.4,-2.4M32.6,43.7l1.4,0.6M35.6,24.1l0.4,-1.5M21.1,37.9l2.2,0.9M18.6,37.7l1.3,-1.9M37.6,29.6l0.7,0.9M50.5,38.9l1.0,0.5M44.6,58.9l1.8,-1.7M39.4,40.0l1.4,-1.8M37.1,31.4l1.5,0.6M39.8,31.0l1.0,1.4M20.4,61.9l1.1,1.7M45.5,35.8l1.9,1.7M10.9,21.8l2.1,1.0M53.3,23.8l1.1,1.1M52.1,23.2l0.7,-1.9M33.0,64.3l1.1,0.8M31.1,25.6l1.9,1.5M33.5,63.0l0.7,-1.0M38.4,85.3l0.8,-1.5M18.9,8.0l0.7,1.7M41.2,46.3l1.0,1.5M46.5,30.4l1.5,1.2M20.2,14.4l2.1,1.0M48.8,26.9l0.4,-1.1M29.9,66.1l1.6,2.0M5.0,2.4l1.4,2.0M31.5,68.0l1.3,0.6M14.7,44.8l1.6,1.6M45.7,37.2l2.0,0.8M24.5,30.7l0.4,-1.0M20.6,41.7l0.7,-1.2M25.4,35.0l0.8,-1.3M37.7,69.0l2.0,0.8M18.1,17.4l1.0,1.4M31.8,20.7l0.6,-1.1M13.2,34.5l0.9,-2.3M27.6,34.5l1.1,1.5M24.2,32.6l1.4,-1.7M17.4,21.9l2.2,1.2M23.7,22.2l1.5,-1.3M31.2,45.3l0.8,-0.7M26.6,29.8l1.3,0.7M23.7,33.9l1.3,1.4M41.7,77.5l0.8,-1.9M30.3,25.1l1.1,-2.3M47.2,27.9l1.2,0.9M42.0,28.8l0.7,0.9M38.9,26.4l0.8,1.9M47.4,40.4l0.8,-1.8M20.2,13.0l0.5,-1.6M50.3,60.4l0.6,1.5M15.8,4.7l1.5,1.7M43.2,25.4l2.0,1.7M26.8,39.7l0.4,-2.0M32.4,43.0l1.2,0.7M41.6,21.3l1.5,0.6M34.8,59.9l1.7,1.9M39.4,73.2l0.8,0.8M50.3,32.5l1.4,0.6M33.0,47.2l1.7,-1.8M27.7,63.7l0.4,-1.0M38.7,65.7l0.5,-1.0M28.5,66.9l1.8,1.0M43.0,20.9l1.7,1.1M39.2,31.2l1.3,0.7M41.4,32.4l0.4,-1.6M41.2,34.6l1.6,1.0M29.4,74.0l1.0,-1.3M41.2,26.5l1.1,-2.2M33.5,13.3l1.2,-2.1M17.3,20.1l1.1,2.1M39.2,36.0l1.3,1.4M37.5,40.9l2.1,0.8M20.9,49.8l1.7,1.0M36.8,46.1l0.9,-1.8M57.1,23.7l0.9,-2.4M25.0,32.0l1.1,1.5M50.0,25.1l0.8,0.9M50.8,85.3l1.4,1.5M42.8,72.6l0.9,-1.8M50.1,18.6l1.1,0.8M47.7,25.6l0.4,-1.8M46.8,83.3l1.5,0.6M22.7,16.0l0.8,1.8M22.1,50.1l1.2,-2.3M13.7,11.6l1.4,1.9M35.2,65.3l0.4,-1.7M20.9,57.3l0.5,-1.2M35.2,64.1l1.3,-1.7M35.9,79.1l0.4,-2.1M44.3,32.2l0.8,1.7M48.6,82.5l0.4,-2.2M42.6,57.3l0.6,-1.5" stroke="#353b9a" stroke-width="0.75" stroke-linecap="round" fill="none" opacity="0.85"/>
<path d="M42.0,79.6l1.5,-1.4M38.6,29.6l0.5,1.3M47.9,29.0l0.3,-1.1M19.1,35.6l0.9,-0.9M23.0,32.2l0.9,1.1M15.8,26.2l1.3,1.5M23.5,30.7l0.4,-1.8M27.1,12.9l0.5,1.2M44.7,21.2l0.4,1.1M27.9,50.6l0.8,-2.1M32.6,26.0l1.0,1.3M49.6,22.3l0.8,1.1M29.8,76.2l1.5,1.6M52.1,28.4l0.6,-1.3M37.1,28.0l0.8,-1.4M27.7,48.9l0.6,1.5M44.1,78.2l1.1,1.8M40.2,45.4l0.8,-0.8M39.6,74.1l1.3,0.7M37.5,63.8l1.2,-2.0M14.3,15.0l0.9,1.3M20.3,19.6l1.3,0.9M43.5,75.9l1.6,-1.6M13.5,31.3l1.4,1.8M38.2,24.0l0.7,-1.3M30.5,20.5l0.3,-1.6M37.9,28.2l0.9,0.9M20.8,13.8l0.5,-1.0M42.2,32.7l2.0,0.9M53.5,43.6l0.6,1.1M32.0,39.6l1.0,-1.1M13.5,24.6l0.6,0.9M39.9,61.4l1.0,-1.2M49.4,62.3l0.5,-1.0M43.0,41.4l0.5,-1.3M36.5,66.7l1.5,1.9M24.6,39.9l1.3,-1.3M31.9,59.5l2.1,0.9M39.4,65.9l1.3,1.9M43.7,42.8l1.0,-1.4M16.8,11.0l0.5,-1.0M22.0,29.5l1.1,1.9M28.3,38.1l1.3,-1.9M39.2,25.4l0.7,0.8M35.7,37.5l2.0,1.5M30.5,47.7l2.0,0.8M46.9,22.9l1.0,-1.9M44.6,24.3l1.7,-1.6M31.0,37.7l1.4,1.6M38.3,14.7l0.9,-0.9M44.1,30.6l0.5,-1.2M57.2,32.2l1.3,-2.1M48.5,82.9l1.3,-2.0M31.8,51.6l0.4,-1.0M54.9,25.9l1.2,1.2M42.7,66.0l1.2,-1.5M22.3,13.3l0.8,1.0M33.1,37.2l0.6,-2.2M48.1,69.7l1.0,-2.2M44.4,25.3l0.8,-1.9M40.3,16.0l2.2,0.8M25.8,39.3l1.5,2.0M46.6,34.0l1.1,-1.6M21.4,44.4l1.2,0.9M40.7,27.5l2.3,1.0M36.8,48.7l1.3,2.1M24.8,24.0l0.8,1.2M20.9,15.3l1.4,-1.8M30.8,44.6l1.6,1.3M32.2,29.1l0.9,1.4M24.1,45.4l0.9,0.7M31.3,27.7l0.9,2.4M39.9,31.5l1.4,1.9M38.0,77.3l1.8,0.8M26.6,30.3l1.5,1.8M16.2,26.0l0.8,2.2M28.3,48.0l0.8,-1.4M56.0,33.5l1.6,1.6M50.3,41.0l0.8,0.9M36.9,34.2l0.5,1.0M49.7,73.2l1.5,-1.7M23.4,35.4l1.0,-1.4M33.1,66.4l1.3,1.0M16.8,27.5l1.2,0.5M26.4,10.6l0.8,-2.0M22.1,32.6l0.9,0.9M49.5,29.7l1.6,-1.5M20.2,33.0l1.5,0.6M39.3,25.6l1.6,1.9M31.6,35.7l0.5,1.0M47.8,29.2l0.9,-1.3M40.7,37.1l1.4,1.5M53.3,26.7l0.8,-2.1M36.9,64.7l1.1,2.2M45.3,25.4l1.0,2.1M29.1,55.1l1.5,-1.7M56.2,21.8l1.2,1.2M36.2,80.9l0.7,-2.4M39.7,61.6l0.8,1.0M27.5,22.6l0.6,1.0M40.0,64.5l1.2,-1.3M33.2,60.2l1.5,1.9M43.3,65.2l1.7,-1.6M29.5,33.7l1.0,0.4M48.1,76.6l1.0,0.5M43.7,78.9l0.6,-1.9M53.9,30.6l1.5,0.8M34.0,69.6l1.0,-1.6M16.3,48.7l0.6,-1.3M37.1,68.7l0.6,-1.8M14.0,21.7l1.2,-2.3M46.0,83.2l2.2,1.1M30.8,65.8l1.2,-2.1M17.5,38.4l0.8,1.1M34.6,54.7l1.1,-1.5M37.8,37.2l1.1,-1.1M42.7,82.2l0.8,-2.5M28.8,66.1l0.3,-1.3M42.3,78.0l0.4,-1.9M40.8,59.2l1.4,1.0M45.4,82.1l0.9,0.8M19.3,11.3l1.4,-1.3M16.5,39.3l0.5,-1.3M35.3,67.4l0.5,0.8M46.3,67.2l0.7,-2.5M49.4,22.3l0.7,1.5M50.0,30.0l1.1,-1.3M25.3,25.5l0.8,1.2M41.7,26.3l0.5,-1.5M19.8,23.1l0.8,-0.9M32.0,46.2l1.9,1.6M36.4,25.4l1.0,1.2M50.5,72.4l0.5,-1.1M12.0,7.6l0.9,-1.1M52.8,23.1l1.8,1.7M42.8,19.1l0.7,1.8M43.9,33.0l0.5,-1.5M45.2,30.8l1.2,-1.4M50.4,33.3l0.9,0.7M38.2,57.6l0.3,-1.5M28.8,52.9l1.4,2.1M29.7,26.9l0.6,-1.2M23.7,61.2l1.4,0.5M26.9,36.4l1.5,-1.5M53.5,29.7l0.7,-1.5M51.9,40.7l0.8,-2.5M53.7,25.7l0.9,-1.1M29.6,57.1l1.5,1.0M31.2,18.7l1.7,-1.7M34.9,64.5l1.2,0.9M41.7,72.7l0.9,1.0M34.9,22.3l0.7,-0.7M36.3,27.5l0.4,-1.4M39.7,54.0l0.3,-1.5M36.2,18.8l0.6,-2.2M29.9,43.4l1.5,1.2M22.2,36.3l1.1,-2.1M26.4,9.0l1.2,1.0M39.7,75.8l0.9,-1.3M32.6,52.9l1.4,1.9M40.6,85.2l1.3,-1.4" stroke="#4a3899" stroke-width="0.75" stroke-linecap="round" fill="none" opacity="0.85"/>
<path d="M48.1,25.8l1.9,1.6M49.6,86.3l1.1,0.8M12.0,28.9l1.0,0.5M32.4,60.4l1.1,-1.1M48.0,18.3l2.3,1.0M36.3,33.4l1.4,-1.5M21.7,45.1l0.9,-1.2M36.1,19.8l1.0,0.8M19.4,25.1l2.0,-1.7M39.7,35.7l1.0,-1.5M32.1,22.1l0.3,-1.8M20.3,31.3l1.1,1.7M37.0,33.1l1.6,1.2M35.9,55.7l0.4,-1.3M40.8,39.6l0.7,-2.1M49.0,32.1l0.8,-2.1M47.9,24.4l1.1,-2.0M48.4,79.1l1.4,1.7M25.6,32.9l0.6,-2.4M16.3,24.9l0.8,1.0M24.1,31.9l1.7,0.8M45.5,80.4l2.2,1.3M35.2,72.8l1.5,1.2M41.2,74.3l1.1,-1.0M42.0,28.4l0.7,-1.0M13.3,17.2l1.5,-1.7M19.7,23.8l1.3,0.6M30.3,52.0l0.5,-1.3M42.6,66.8l0.8,1.4M36.5,69.9l1.3,0.8M43.7,25.2l0.4,-2.2M28.2,28.3l0.8,-1.2M56.8,36.9l1.5,0.7M45.2,25.4l1.1,2.2M23.1,49.7l0.9,0.8M36.4,62.3l1.3,0.6M31.5,62.1l1.0,-1.0M27.3,39.5l0.9,-1.3M16.8,31.8l1.1,-1.5M46.5,18.4l1.3,0.7M51.4,21.7l0.6,-1.3M33.4,63.2l1.4,-1.2M24.5,14.9l1.4,-2.1M50.4,76.7l1.2,1.4M8.3,26.7l1.2,-2.2M40.2,72.3l1.7,1.2M51.7,75.5l1.2,0.6M45.5,78.6l0.8,-0.9M32.9,48.7l0.6,-1.7M45.3,63.7l1.1,-1.8M37.7,81.3l0.7,-0.8M26.0,29.1l0.5,1.2M34.0,21.3l1.8,1.0M55.1,64.5l1.6,0.9M40.1,24.2l1.7,0.9M13.5,20.5l0.8,-0.8M37.5,69.0l0.9,-0.9M31.3,37.8l0.4,-1.7M14.6,24.6l1.8,-1.8M56.1,33.0l1.1,2.3M18.8,39.8l1.7,1.9M48.6,24.1l2.2,1.4M35.8,45.1l0.5,-2.1M32.9,28.7l1.2,0.5M35.0,81.9l0.2,-1.3M20.9,6.2l0.9,0.7M37.6,47.4l0.8,-0.8M33.9,49.5l1.0,1.8M45.3,27.1l0.7,-2.3M37.3,32.7l0.4,1.0M24.0,27.0l2.3,1.0M43.4,27.1l0.5,-0.9M41.7,22.3l0.3,-1.3M33.7,59.4l1.4,1.0M20.6,25.9l0.4,-1.4M41.0,52.3l1.0,0.5M14.8,30.4l0.5,-1.6M34.8,57.4l0.5,-1.3M44.9,76.1l0.7,1.0M30.6,59.6l0.9,1.3M20.8,7.0l1.0,2.4M33.2,68.5l1.1,1.8M34.9,19.7l0.6,-1.9M18.0,26.7l1.4,-1.3M31.0,33.1l0.9,1.4M21.6,53.0l0.8,0.8M6.2,8.7l1.9,1.3M31.4,69.8l0.2,-1.3M33.9,17.2l0.4,0.9M26.0,23.0l0.3,-1.2M38.2,28.5l1.2,2.3M44.9,78.3l0.9,-0.8M24.8,28.6l1.8,0.9M5.9,9.3l1.3,1.9M37.7,35.1l0.6,1.1M41.8,77.7l1.3,-1.2M59.1,27.0l1.0,1.4M21.4,37.6l0.6,-1.4M46.8,34.8l1.4,1.4M23.6,42.3l1.0,-1.6M35.5,75.3l0.9,0.7M44.9,26.5l1.5,1.0M20.4,31.4l0.7,1.5M42.1,75.9l2.4,0.9M24.6,32.9l1.8,-1.8M48.3,26.9l1.0,0.9M41.4,26.5l2.4,1.0M34.8,81.0l1.1,1.2M41.5,71.6l1.3,0.9M19.6,37.9l0.8,0.7M35.6,43.6l1.6,2.0M32.7,47.3l1.3,2.1M24.5,65.0l1.5,-1.9M18.3,45.4l0.8,0.8M48.0,26.9l0.8,-1.0M45.9,22.1l0.9,0.7M24.9,42.4l1.4,-1.6M31.0,61.6l0.5,-0.9M31.5,49.8l0.6,1.3M36.4,39.0l0.4,-2.1M33.0,27.2l0.6,-1.9M35.4,48.3l0.4,1.1M32.9,41.0l1.5,1.9M47.2,83.3l0.8,-1.2M27.4,25.3l0.7,-1.6M47.8,38.4l0.4,-1.7M18.1,56.2l0.5,-1.2M10.5,29.2l2.0,0.9M23.9,20.4l0.9,-1.8M48.3,77.7l0.8,0.6M42.9,32.0l1.2,-1.8M45.5,43.5l1.6,1.8M46.9,72.7l0.5,-1.7M1.4,12.3l0.9,1.3M35.8,79.7l0.8,-1.2M41.7,19.9l0.5,-2.4M36.6,41.6l1.0,2.3M11.9,9.1l1.7,-1.9M27.8,14.9l2.4,0.9M53.2,20.5l0.9,0.8M42.1,30.4l0.5,-1.0M13.5,12.2l1.6,1.4M34.4,29.4l1.5,1.2M43.1,78.2l1.0,1.3M21.8,17.4l0.5,-1.2M44.6,26.8l1.0,0.9M48.5,29.9l0.9,1.4M61.0,26.3l2.1,1.0M37.2,78.8l1.6,-1.4M39.2,40.9l1.6,-2.0M23.1,20.1l0.7,-1.4M30.3,26.9l1.2,0.7M11.5,17.7l0.5,-1.2M50.7,70.2l1.3,-1.4M19.3,60.5l1.1,-1.4M34.9,44.7l0.6,1.2M34.3,57.7l1.1,-1.7M42.0,56.9l0.4,1.1M18.2,16.4l1.1,-1.7M34.7,27.1l1.1,-1.5M32.5,68.3l1.1,0.9M39.3,45.1l1.9,1.7M28.2,65.7l1.5,-1.9M37.6,25.0l1.5,1.2M30.5,41.2l0.7,-1.3M31.9,17.0l0.5,1.3M36.1,71.9l0.6,1.6M26.2,63.4l0.8,-0.7M24.9,34.4l1.8,1.8M34.7,31.7l1.1,1.8M36.1,83.6l1.7,1.0M12.5,16.2l0.9,-1.4M30.3,25.0l1.2,-1.5M22.5,22.2l1.0,1.4M36.9,20.7l0.5,-1.4M50.8,60.4l1.7,-1.5M33.5,25.1l1.2,1.3M37.3,17.2l1.2,-1.4M34.8,80.4l1.4,-1.5" stroke="#6e3094" stroke-width="0.75" stroke-linecap="round" fill="none" opacity="0.85"/>
<path d="M30.7,43.8l0.7,-2.0M23.9,50.5l1.7,1.2M36.7,31.4l0.8,2.0M36.7,32.3l0.9,-0.8M17.4,15.4l1.1,-2.2M32.8,25.9l0.5,1.2M32.0,21.9l1.0,-1.0M19.9,32.7l2.0,1.3M45.1,32.6l0.6,-2.0M44.2,25.4l1.5,-1.3M41.4,84.0l1.0,-1.7M58.1,81.4l0.9,1.0M49.5,27.9l0.5,-1.7M44.7,63.8l0.9,-1.4M32.8,50.1l1.9,0.8M46.3,27.2l1.6,1.6M32.6,48.4l0.9,1.1M34.2,40.6l1.2,-1.8M40.6,59.6l1.4,-1.7M32.4,39.9l0.9,-2.4M34.2,17.8l1.3,-1.6M40.1,21.6l0.4,-1.7M37.0,78.7l1.1,2.1M42.1,19.6l0.6,-0.9M30.0,59.4l1.4,1.5M35.0,70.0l0.5,1.1M45.8,27.5l0.7,-1.6M43.8,55.1l0.4,-1.3M52.8,25.2l1.4,1.6M8.9,29.3l1.5,-1.7M45.9,23.6l1.6,-1.6M47.7,32.3l0.9,0.5M4.6,6.4l0.8,1.3M27.0,27.4l0.7,-2.5M43.2,67.6l1.0,-0.9M23.4,51.4l1.2,-1.2M18.1,56.8l1.1,-1.8M39.1,69.3l0.9,0.6M30.5,62.8l0.6,-0.9M41.7,70.1l1.3,1.7M44.4,57.3l1.6,-1.5M32.9,15.3l0.4,-1.0M35.8,77.7l1.7,1.3M52.4,33.5l0.6,-0.9M36.7,15.7l2.1,0.9M38.8,55.1l1.0,1.8M46.1,75.1l0.4,-2.2M32.7,64.4l0.6,-1.0M47.7,18.6l1.8,-1.8M31.4,30.6l1.0,1.2M15.2,29.7l0.6,-0.8M43.7,76.3l1.6,1.5M27.6,37.9l0.3,-1.5M20.5,16.2l0.5,-1.6M38.1,17.5l1.0,-1.2M29.5,69.4l2.0,0.7M58.9,27.3l1.1,0.5M20.5,40.8l0.9,-2.3M27.4,23.4l1.5,-1.7M19.7,10.1l1.1,2.1M30.1,19.5l0.7,1.0M34.8,38.1l1.3,-2.1M35.2,20.3l0.9,-1.1M38.7,39.1l0.7,-1.9M22.5,15.8l1.5,-1.7M33.7,20.9l0.8,-1.2M42.0,25.4l1.3,1.1M33.9,55.6l1.3,2.0M54.4,35.9l0.8,0.7M32.8,80.5l0.6,1.1M16.9,40.9l0.7,1.6M54.8,39.2l1.2,1.0M24.9,28.9l0.8,1.2M50.1,21.8l1.7,-1.9M32.5,70.3l1.6,-1.7M19.8,37.5l0.6,-0.9M16.7,22.1l0.9,-1.5M42.2,29.5l1.0,-2.3M37.1,80.2l0.8,2.1M44.0,27.7l0.7,-0.9M24.7,46.3l0.9,1.4M19.6,13.1l2.0,1.6M42.1,71.5l1.7,0.7M14.4,36.4l0.9,-1.3M19.4,53.0l0.4,1.2M37.1,37.3l0.7,1.3M36.9,70.1l0.4,-2.0M25.0,21.6l0.8,-2.1M34.7,71.8l1.9,1.8M17.2,35.9l0.2,-1.0M35.0,74.7l1.1,2.0M42.7,28.2l1.0,0.7M28.2,45.9l0.7,1.1M46.7,73.4l0.9,1.7M17.7,30.0l1.7,-1.8M36.6,28.6l0.8,-1.2M38.0,78.0l0.7,1.3M25.0,36.8l1.1,1.6M41.7,35.7l1.9,0.7M34.0,52.5l1.1,-1.7M18.8,15.7l1.0,1.8M28.5,40.5l1.1,-1.3M24.4,36.3l1.8,0.9M41.2,55.8l0.4,-1.5M39.4,74.8l1.5,1.8M42.1,82.0l0.9,0.7M31.7,73.8l1.2,0.4M50.3,34.4l1.4,0.6M33.3,31.9l1.4,-1.2M32.9,57.3l1.6,-1.7M47.7,41.3l0.5,-1.3M35.3,53.5l0.8,-1.4M33.1,51.6l0.6,1.1M18.1,21.8l0.9,0.4M21.8,23.0l1.5,1.0M44.7,19.5l0.9,-0.8M22.2,31.9l0.7,-0.9M38.7,16.3l1.5,1.0" stroke="#a02c8c" stroke-width="0.75" stroke-linecap="round" fill="none" opacity="0.85"/>
<path d="M51.9,35.3l0.3,-1.9M55.4,23.8l1.2,-2.2M41.2,53.6l1.7,-1.7M41.0,26.9l1.2,-1.8M37.3,21.0l1.0,1.5M11.9,26.6l0.7,1.3M22.7,9.1l0.4,-1.8M32.7,28.5l1.4,2.1M14.7,23.0l0.5,-1.2M35.7,46.7l0.8,1.5M57.9,30.0l1.0,0.5M29.1,62.5l1.5,-2.0M42.5,27.2l1.2,-1.4M42.9,21.4l0.9,-1.4M22.9,37.6l1.8,1.9M20.6,29.4l1.1,2.1M26.1,37.1l1.1,0.4M31.1,50.8l0.4,-1.4M23.9,53.1l1.6,1.4M46.4,81.1l0.6,-2.5M15.0,28.8l0.9,0.4M18.7,13.7l1.9,1.2M28.2,16.0l0.5,-1.1M31.8,16.7l0.9,-2.3M29.9,57.2l1.2,1.8M19.8,16.4l1.0,1.0M38.1,52.7l0.8,1.3M21.7,13.8l0.5,-1.5M22.8,44.8l0.7,1.2M38.2,26.3l0.4,-1.3M35.0,77.1l1.8,0.8M31.0,60.3l0.6,1.0M52.8,29.9l1.9,1.5M42.8,20.7l1.3,0.5M19.5,40.7l1.2,1.1M36.8,37.9l1.9,1.1M18.2,14.0l1.2,1.4M6.6,18.3l0.8,-1.7M32.8,25.3l1.5,0.7M14.6,10.6l0.7,1.3M44.0,52.4l1.5,-1.8M13.8,27.4l1.5,0.8M35.2,64.2l1.3,1.2M27.8,74.0l1.2,0.5M21.1,22.2l0.7,1.0M47.4,23.8l1.4,0.6M21.8,23.4l1.1,2.0M22.2,22.1l1.7,1.5M33.6,62.7l1.0,-2.2M24.0,49.2l1.1,-2.2M24.7,48.4l1.0,-1.2M45.1,28.5l0.8,-1.2M40.4,70.4l1.6,-1.3M46.0,58.6l0.4,1.0M29.6,49.7l0.5,0.9M25.2,23.5l0.3,-1.4M31.7,23.7l0.5,0.9M26.8,13.0l1.0,0.6M24.4,42.9l1.5,0.7M27.7,31.1l0.7,-1.9M47.3,21.7l2.2,0.9M48.9,25.0l1.0,-1.3M28.5,63.2l0.7,0.7M27.6,22.8l1.1,-1.1M54.7,26.0l1.2,-1.5M53.9,26.3l0.8,-1.2M38.5,20.4l1.4,0.9M32.3,17.3l0.6,-1.1M40.1,78.2l1.0,2.2M33.1,15.3l1.7,-1.8M46.9,27.0l1.5,0.9M21.7,17.9l0.8,-1.4M26.5,10.1l0.9,1.4M52.3,72.0l0.9,-2.0M35.9,84.5l0.5,-1.3M33.8,45.7l0.9,-0.8M22.6,26.9l0.2,-1.2M43.0,30.7l1.0,1.8M45.1,34.5l1.4,-2.0M34.1,28.5l1.8,-1.7M34.7,77.2l1.2,1.1M49.7,65.5l0.6,-1.1M51.5,28.4l0.7,-1.2M16.4,31.4l0.6,1.1M49.3,25.3l1.0,-1.9M29.1,73.9l0.8,1.9M31.5,24.0l2.0,1.5M46.8,33.1l0.4,-1.3M21.2,41.3l1.7,1.0M25.3,16.7l0.5,-1.4M34.8,18.4l0.8,-2.4M28.6,62.5l0.7,1.5M29.1,32.0l1.0,2.1M42.2,60.8l0.5,-2.5M44.4,61.0l1.2,0.6M32.9,20.1l0.5,-2.0M26.4,62.4l1.0,1.5M36.0,54.6l0.7,-1.7M36.1,21.6l1.3,0.6M33.8,63.5l1.0,-1.4M22.1,52.7l0.5,1.3M39.7,51.6l0.5,-1.1M33.8,30.6l0.7,-1.7M40.9,51.1l0.4,-1.9M33.7,43.9l1.4,1.4M60.8,30.8l0.9,-0.8M43.2,78.8l1.4,-1.4M25.8,32.0l0.9,-1.3M49.0,17.8l1.2,-1.7M52.4,84.1l1.1,0.6M52.3,71.1l1.1,1.8M26.9,40.2l1.1,2.0" stroke="#cc3a80" stroke-width="0.75" stroke-linecap="round" fill="none" opacity="0.85"/>
<g clip-path="url(#shelfclip)"><rect x="60" y="55" width="72" height="60" fill="#ffffff"/></g>
<polygon points="104.5,105.2 104.6,99.6 106.1,98.4 109,98.8 111,99.8 112.4,101.3 108.6,106.6" fill="#f08a62"/>
</g>
<polygon points="0.0,0.0 10.0,1.0 30.0,10.6 44.0,15.6 47.0,16.6 60.6,24.2 74.3,32.8 79.0,35.6 84.4,38.6 92.3,45.9 105.0,59.3 106.4,60.4 119.3,68.6 124.3,72.9 125.7,77.9 125.5,80.6 108.6,106.6 53.0,84.6 44.6,94.6 30.7,78.6 24.0,68.6 1.2,30.0" fill="none" stroke="#a0a0a0" stroke-width="0.35"/>
<path d="M77.6,94.7 L76.6,92.7 L75.9,90.4 L75.6,88.6 L74.5,85.5 L73.5,83.4 L74.6,82.6 L75.6,81.4 L77.6,80.3 L78.4,79.6 L79.7,78.3 L81.7,77.2 L82.6,76.6 L83.8,75.2 L82.6,74.0 L81.7,72.5 L82.8,70.0 L82.4,68.4 L81.7,66.9 L83.8,64.9 L85.8,64.6 L87.9,63.9 L91.0,64.9 L94.1,67.0 L96.2,67.2 L98.2,68.0 L101.3,69.0 L104.4,70.0 L107.5,72.5 L110.6,73.7 L113.5,74.5 L115.7,74.6 L117.8,74.2 L117.3,73.2 L115.5,72.8 L113.0,72.6 L110.8,71.8 L108.9,69.6 L107.9,68.2 L107.5,67.0 L106.8,64.8 L106.4,62.8 L105.4,59.6" fill="none" stroke="#2a8a46" stroke-width="1.15" stroke-linejoin="round"/>
<path d="M120.5,69.8 L121.4,72.2 L123.4,74.8 L125.2,76.6" fill="none" stroke="#2a8a46" stroke-width="1.15"/>
<path d="M104.5,105.0 L104.6,99.6 L106.1,98.4 L109.0,98.8 L111.0,99.8 L112.3,101.3" fill="none" stroke="#2a8a46" stroke-width="1.15"/>
<ellipse cx="88.6" cy="89.6" rx="0.8" ry="1.0" fill="#2a8a46"/>
<ellipse cx="88.9" cy="93.2" rx="0.9" ry="1.4" fill="#2a8a46"/>
<path d="M91.4,88.6 L93.2,92.5 L95.6,96.4" fill="none" stroke="#2a8a46" stroke-width="1.8" stroke-linecap="round"/>
</g>
<rect x="314" y="2.6" width="7" height="118.7" fill="url(#cm)" stroke="#cfcfcf" stroke-width="0.4"/>
<line x1="314" y1="121.3" x2="321" y2="121.3" stroke="#8a8a8a" stroke-width="0.5"/>
<text x="323" y="5.0" font-size="5.4" fill="#111" stroke="#111" stroke-width="0.05">1200</text>
<text x="323" y="24.8" font-size="5.4" fill="#111" stroke="#111" stroke-width="0.05">1000</text>
<text x="323" y="44.6" font-size="5.4" fill="#111" stroke="#111" stroke-width="0.05">800</text>
<text x="323" y="64.4" font-size="5.4" fill="#111" stroke="#111" stroke-width="0.05">600</text>
<text x="323" y="84.1" font-size="5.4" fill="#111" stroke="#111" stroke-width="0.05">400</text>
<text x="323" y="103.9" font-size="5.4" fill="#111" stroke="#111" stroke-width="0.05">200</text>
<text x="323" y="123.7" font-size="5.4" fill="#111" stroke="#111" stroke-width="0.05">0</text>
<rect x="314" y="138.7" width="6.300000000000011" height="118.80000000000001" fill="url(#cm)" stroke="#cfcfcf" stroke-width="0.4"/>
<line x1="314" y1="257.5" x2="320.3" y2="257.5" stroke="#8a8a8a" stroke-width="0.5"/>
<text x="322" y="141.1" font-size="5.4" fill="#111" stroke="#111" stroke-width="0.05">0</text>
<text x="322" y="164.9" font-size="5.4" fill="#111" stroke="#111" stroke-width="0.05">-200</text>
<text x="322" y="188.6" font-size="5.4" fill="#111" stroke="#111" stroke-width="0.05">-400</text>
<text x="322" y="212.4" font-size="5.4" fill="#111" stroke="#111" stroke-width="0.05">-600</text>
<text x="322" y="236.1" font-size="5.4" fill="#111" stroke="#111" stroke-width="0.05">-800</text>
<text x="322" y="259.9" font-size="5.4" fill="#111" stroke="#111" stroke-width="0.05">-1000</text>
<rect x="135.6" y="274.4" width="7.0" height="118.60000000000002" fill="url(#cm)" stroke="#cfcfcf" stroke-width="0.4"/>
<line x1="135.6" y1="393" x2="142.6" y2="393" stroke="#8a8a8a" stroke-width="0.5"/>
<text x="144.7" y="290.4" font-size="5.4" fill="#111" stroke="#111" stroke-width="0.05">600</text>
<text x="144.7" y="307.9" font-size="5.4" fill="#111" stroke="#111" stroke-width="0.05">500</text>
<text x="144.7" y="325.4" font-size="5.4" fill="#111" stroke="#111" stroke-width="0.05">400</text>
<text x="144.7" y="342.9" font-size="5.4" fill="#111" stroke="#111" stroke-width="0.05">300</text>
<text x="144.7" y="360.4" font-size="5.4" fill="#111" stroke="#111" stroke-width="0.05">200</text>
<text x="144.7" y="377.9" font-size="5.4" fill="#111" stroke="#111" stroke-width="0.05">100</text>
<text x="144.7" y="395.4" font-size="5.4" fill="#111" stroke="#111" stroke-width="0.05">0</text>
<rect x="314" y="279.9" width="7" height="118.60000000000002" fill="url(#cm)" stroke="#cfcfcf" stroke-width="0.4"/>
<line x1="314" y1="398.5" x2="321" y2="398.5" stroke="#8a8a8a" stroke-width="0.5"/>
<text x="322.7" y="282.3" font-size="5.4" fill="#111" stroke="#111" stroke-width="0.05">2500</text>
<text x="322.7" y="306.0" font-size="5.4" fill="#111" stroke="#111" stroke-width="0.05">2000</text>
<text x="322.7" y="329.7" font-size="5.4" fill="#111" stroke="#111" stroke-width="0.05">1500</text>
<text x="322.7" y="353.5" font-size="5.4" fill="#111" stroke="#111" stroke-width="0.05">1000</text>
<text x="322.7" y="377.2" font-size="5.4" fill="#111" stroke="#111" stroke-width="0.05">500</text>
<text x="322.7" y="400.9" font-size="5.4" fill="#111" stroke="#111" stroke-width="0.05">0</text>
<rect x="135.7" y="423" width="6.700000000000017" height="118.5" fill="url(#cm)" stroke="#cfcfcf" stroke-width="0.4"/>
<line x1="135.7" y1="541.5" x2="142.4" y2="541.5" stroke="#8a8a8a" stroke-width="0.5"/>
<text x="143.8" y="425.4" font-size="5.6" fill="#111" stroke="#111" stroke-width="0.05">0.07</text>
<text x="143.8" y="442.3" font-size="5.6" fill="#111" stroke="#111" stroke-width="0.05">0.06</text>
<text x="143.8" y="459.3" font-size="5.6" fill="#111" stroke="#111" stroke-width="0.05">0.05</text>
<text x="143.8" y="476.2" font-size="5.6" fill="#111" stroke="#111" stroke-width="0.05">0.04</text>
<text x="143.8" y="493.1" font-size="5.6" fill="#111" stroke="#111" stroke-width="0.05">0.03</text>
<text x="143.8" y="510.0" font-size="5.6" fill="#111" stroke="#111" stroke-width="0.05">0.02</text>
<text x="143.8" y="527.0" font-size="5.6" fill="#111" stroke="#111" stroke-width="0.05">0.01</text>
<text x="143.8" y="543.9" font-size="5.6" fill="#111" stroke="#111" stroke-width="0.05">0</text>
<rect x="312.8" y="420.4" width="6.599999999999966" height="118.39999999999998" fill="url(#cm)" stroke="#cfcfcf" stroke-width="0.4"/>
<line x1="312.8" y1="538.8" x2="319.4" y2="538.8" stroke="#8a8a8a" stroke-width="0.5"/>
<text x="321.5" y="422.8" font-size="5.5" fill="#111" stroke="#111" stroke-width="0.05">160</text>
<text x="321.5" y="437.6" font-size="5.5" fill="#111" stroke="#111" stroke-width="0.05">140</text>
<text x="321.5" y="452.4" font-size="5.5" fill="#111" stroke="#111" stroke-width="0.05">120</text>
<text x="321.5" y="467.2" font-size="5.5" fill="#111" stroke="#111" stroke-width="0.05">100</text>
<text x="321.5" y="482.0" font-size="5.5" fill="#111" stroke="#111" stroke-width="0.05">80</text>
<text x="321.5" y="496.8" font-size="5.5" fill="#111" stroke="#111" stroke-width="0.05">60</text>
<text x="321.5" y="511.6" font-size="5.5" fill="#111" stroke="#111" stroke-width="0.05">40</text>
<text x="321.5" y="526.4" font-size="5.5" fill="#111" stroke="#111" stroke-width="0.05">20</text>
<text x="321.5" y="541.2" font-size="5.5" fill="#111" stroke="#111" stroke-width="0.05">0</text>
<text x="151.0" y="21.5" font-size="9" font-weight="bold" fill="#000" text-anchor="middle">a</text>
<text x="300.3" y="21.1" font-size="9" font-weight="bold" fill="#000" text-anchor="middle">b</text>
<text x="151.1" y="150.0" font-size="9" font-weight="bold" fill="#000" text-anchor="middle">c</text>
<text x="300.1" y="149.7" font-size="9" font-weight="bold" fill="#000" text-anchor="middle">d</text>
<text x="126.7" y="278.9" font-size="9" font-weight="bold" fill="#000" text-anchor="middle">e</text>
<text x="295.6" y="278.9" font-size="9" font-weight="bold" fill="#000" text-anchor="middle">f</text>
<text x="127.0" y="426.3" font-size="9" font-weight="bold" fill="#000" text-anchor="middle">g</text>
<text x="297.0" y="426.6" font-size="9" font-weight="bold" fill="#000" text-anchor="middle">h</text>
<text transform="translate(162.5,35.8) rotate(90)" font-size="8.13" fill="#222">Optical Imagery</text>
<text transform="translate(340.5,22.4) rotate(90)" font-size="7.76" fill="#222">Surface Elevation (m)</text>
<text transform="translate(162.5,151.8) rotate(90)" font-size="7.84" fill="#222">Bedmap2 Radar Coverage</text>
<text transform="translate(340.6,166) rotate(90)" font-size="8.05" fill="#222">Bed Topography (m)</text>
<text transform="translate(164.8,293.6) rotate(90)" font-size="8.1" fill="#222">Surface Velocity (m a<tspan baseline-shift="super" font-size="5">−1</tspan>)</text>
<text transform="translate(341.8,302.3) rotate(90)" font-size="7.66" fill="#222">Ice Thickness (m)</text>
<text transform="translate(166.3,438.9) rotate(90)" font-size="7.9" fill="#222">Effective Strain Rates (a<tspan baseline-shift="super" font-size="5">−1</tspan>)</text>
<text transform="translate(342.5,437) rotate(90)" font-size="7.8" fill="#222">Driving Stress (kPa)</text>
<line x1="1.7" y1="6.5" x2="34" y2="6.5" stroke="#222" stroke-width="0.9"/>
<text x="18.2" y="5.4" font-size="5" fill="#222" text-anchor="middle">200 km</text>
</svg></body></html>
